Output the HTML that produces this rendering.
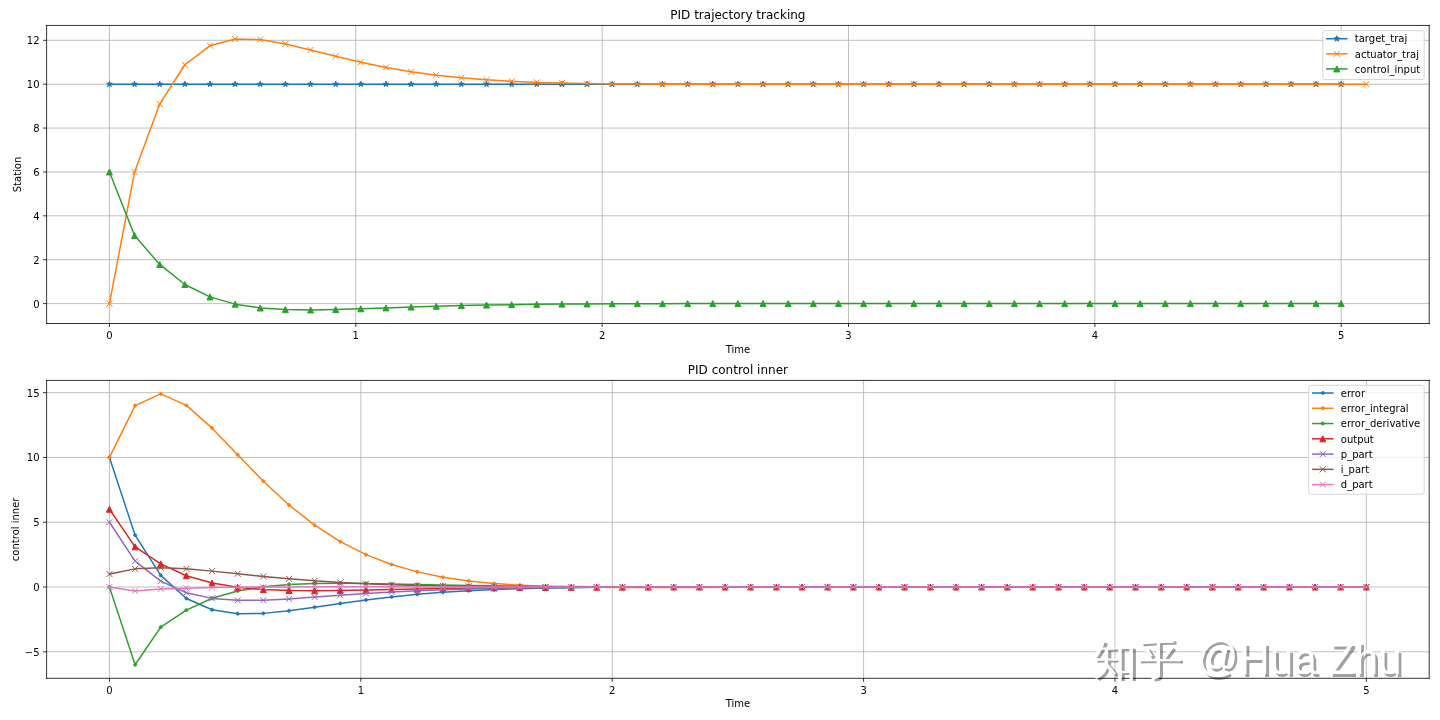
<!DOCTYPE html>
<html><head><meta charset="utf-8"><title>PID trajectory tracking</title>
<style>
html,body{margin:0;padding:0;background:#fff;width:1440px;height:720px;overflow:hidden}
#wrap{position:relative;width:1440px;height:720px}
#wrap svg{display:block}
#wrap svg{will-change:transform}.wm{position:absolute;white-space:nowrap;color:#fff;line-height:1;text-shadow:3px 2.5px 0.5px rgba(0,0,0,0.37);transform-origin:0 0}#w1{left:1092px;top:638.7px;font-family:'Liberation Sans','WenQuanYi Zen Hei',sans-serif;font-size:43px;transform:scale(1.045,0.97)}#w2{left:1196.5px;top:634px;font-family:'Liberation Sans',sans-serif;font-size:44px;transform:scaleX(0.92)}#w3{left:1239px;top:636.5px;font-family:'Liberation Sans',sans-serif;font-size:44px;transform:scaleX(0.963)}
</style></head><body><div id="wrap">
<svg width="1440" height="720" viewBox="0 0 1440 720" version="1.1">
 <defs>
  <style type="text/css">*{stroke-linejoin: round; stroke-linecap: butt}</style>
 </defs>
 <g id="figure_1">
  <g id="patch_1">
   <path d="M 0 720  L 1440 720  L 1440 0  L 0 0  z " style="fill: #ffffff" />
  </g>
  <g id="axes_1">
   <g id="patch_2">
    <path d="M 46.6 323.5  L 1429.2 323.5  L 1429.2 25.45  L 46.6 25.45  z " style="fill: #ffffff" />
   </g>
   <g id="matplotlib.axis_1">
    <g id="xtick_1">
     <g id="line2d_1">
      <path d="M 109.445 323.5  L 109.445 25.45  " clip-path="url(#p305dee0a32)" style="fill: none; stroke: #b0b0b0; stroke-width: 0.8; stroke-linecap: square" />
     </g>
     <g id="line2d_2">
      <defs>
       <path id="m1504cfccaf" d="M 0 0  L 0 3.5  " style="stroke: #000000; stroke-width: 0.8" />
      </defs>
      <g>
       <use href="#m1504cfccaf" x="109.445" y="323.5" style="stroke: #000000; stroke-width: 0.8" />
      </g>
     </g>
     <g id="text_1" transform="translate(0.000 0.750)">
      <text style="font-size: 10px; font-family: 'DejaVu Sans', sans-serif; text-anchor: middle" x="109.445" y="338.098" transform="rotate(-0 109.445 338.098)">0</text>
     </g>
    </g>
    <g id="xtick_2">
     <g id="line2d_3">
      <path d="M 355.799 323.5  L 355.799 25.45  " clip-path="url(#p305dee0a32)" style="fill: none; stroke: #b0b0b0; stroke-width: 0.8; stroke-linecap: square" />
     </g>
     <g id="line2d_4">
      <g>
       <use href="#m1504cfccaf" x="355.799" y="323.5" style="stroke: #000000; stroke-width: 0.8" />
      </g>
     </g>
     <g id="text_2" transform="translate(0.000 0.750)">
      <text style="font-size: 10px; font-family: 'DejaVu Sans', sans-serif; text-anchor: middle" x="355.799" y="338.098" transform="rotate(-0 355.799 338.098)">1</text>
     </g>
    </g>
    <g id="xtick_3">
     <g id="line2d_5">
      <path d="M 602.153 323.5  L 602.153 25.45  " clip-path="url(#p305dee0a32)" style="fill: none; stroke: #b0b0b0; stroke-width: 0.8; stroke-linecap: square" />
     </g>
     <g id="line2d_6">
      <g>
       <use href="#m1504cfccaf" x="602.153" y="323.5" style="stroke: #000000; stroke-width: 0.8" />
      </g>
     </g>
     <g id="text_3" transform="translate(0.000 0.750)">
      <text style="font-size: 10px; font-family: 'DejaVu Sans', sans-serif; text-anchor: middle" x="602.153" y="338.098" transform="rotate(-0 602.153 338.098)">2</text>
     </g>
    </g>
    <g id="xtick_4">
     <g id="line2d_7">
      <path d="M 848.508 323.5  L 848.508 25.45  " clip-path="url(#p305dee0a32)" style="fill: none; stroke: #b0b0b0; stroke-width: 0.8; stroke-linecap: square" />
     </g>
     <g id="line2d_8">
      <g>
       <use href="#m1504cfccaf" x="848.508" y="323.5" style="stroke: #000000; stroke-width: 0.8" />
      </g>
     </g>
     <g id="text_4" transform="translate(0.000 0.750)">
      <text style="font-size: 10px; font-family: 'DejaVu Sans', sans-serif; text-anchor: middle" x="848.508" y="338.098" transform="rotate(-0 848.508 338.098)">3</text>
     </g>
    </g>
    <g id="xtick_5">
     <g id="line2d_9">
      <path d="M 1094.862 323.5  L 1094.862 25.45  " clip-path="url(#p305dee0a32)" style="fill: none; stroke: #b0b0b0; stroke-width: 0.8; stroke-linecap: square" />
     </g>
     <g id="line2d_10">
      <g>
       <use href="#m1504cfccaf" x="1094.862" y="323.5" style="stroke: #000000; stroke-width: 0.8" />
      </g>
     </g>
     <g id="text_5" transform="translate(0.000 0.750)">
      <text style="font-size: 10px; font-family: 'DejaVu Sans', sans-serif; text-anchor: middle" x="1094.862" y="338.098" transform="rotate(-0 1094.862 338.098)">4</text>
     </g>
    </g>
    <g id="xtick_6">
     <g id="line2d_11">
      <path d="M 1341.216 323.5  L 1341.216 25.45  " clip-path="url(#p305dee0a32)" style="fill: none; stroke: #b0b0b0; stroke-width: 0.8; stroke-linecap: square" />
     </g>
     <g id="line2d_12">
      <g>
       <use href="#m1504cfccaf" x="1341.216" y="323.5" style="stroke: #000000; stroke-width: 0.8" />
      </g>
     </g>
     <g id="text_6" transform="translate(0.000 0.750)">
      <text style="font-size: 10px; font-family: 'DejaVu Sans', sans-serif; text-anchor: middle" x="1341.216" y="338.098" transform="rotate(-0 1341.216 338.098)">5</text>
     </g>
    </g>
    <g id="text_7" transform="translate(0.000 0.750)">
     <text style="font-size: 10px; font-family: 'DejaVu Sans', sans-serif; text-anchor: middle" x="737.9" y="351.776" transform="rotate(-0 737.9 351.776)">Time</text>
    </g>
   </g>
   <g id="matplotlib.axis_2">
    <g id="ytick_1">
     <g id="line2d_13">
      <path d="M 46.6 303.598  L 1429.2 303.598  " clip-path="url(#p305dee0a32)" style="fill: none; stroke: #b0b0b0; stroke-width: 0.8; stroke-linecap: square" />
     </g>
     <g id="line2d_14">
      <defs>
       <path id="m5d545ce8f8" d="M 0 0  L -3.5 0  " style="stroke: #000000; stroke-width: 0.8" />
      </defs>
      <g>
       <use href="#m5d545ce8f8" x="46.6" y="303.598" style="stroke: #000000; stroke-width: 0.8" />
      </g>
     </g>
     <g id="text_8" transform="translate(0.000 0.250)">
      <text style="font-size: 10px; font-family: 'DejaVu Sans', sans-serif; text-anchor: end" x="39.6" y="307.397" transform="rotate(-0 39.6 307.397)">0</text>
     </g>
    </g>
    <g id="ytick_2">
     <g id="line2d_15">
      <path d="M 46.6 259.717  L 1429.2 259.717  " clip-path="url(#p305dee0a32)" style="fill: none; stroke: #b0b0b0; stroke-width: 0.8; stroke-linecap: square" />
     </g>
     <g id="line2d_16">
      <g>
       <use href="#m5d545ce8f8" x="46.6" y="259.717" style="stroke: #000000; stroke-width: 0.8" />
      </g>
     </g>
     <g id="text_9" transform="translate(0.000 0.250)">
      <text style="font-size: 10px; font-family: 'DejaVu Sans', sans-serif; text-anchor: end" x="39.6" y="263.516" transform="rotate(-0 39.6 263.516)">2</text>
     </g>
    </g>
    <g id="ytick_3">
     <g id="line2d_17">
      <path d="M 46.6 215.836  L 1429.2 215.836  " clip-path="url(#p305dee0a32)" style="fill: none; stroke: #b0b0b0; stroke-width: 0.8; stroke-linecap: square" />
     </g>
     <g id="line2d_18">
      <g>
       <use href="#m5d545ce8f8" x="46.6" y="215.836" style="stroke: #000000; stroke-width: 0.8" />
      </g>
     </g>
     <g id="text_10" transform="translate(0.000 0.250)">
      <text style="font-size: 10px; font-family: 'DejaVu Sans', sans-serif; text-anchor: end" x="39.6" y="219.635" transform="rotate(-0 39.6 219.635)">4</text>
     </g>
    </g>
    <g id="ytick_4">
     <g id="line2d_19">
      <path d="M 46.6 171.955  L 1429.2 171.955  " clip-path="url(#p305dee0a32)" style="fill: none; stroke: #b0b0b0; stroke-width: 0.8; stroke-linecap: square" />
     </g>
     <g id="line2d_20">
      <g>
       <use href="#m5d545ce8f8" x="46.6" y="171.955" style="stroke: #000000; stroke-width: 0.8" />
      </g>
     </g>
     <g id="text_11" transform="translate(0.000 0.250)">
      <text style="font-size: 10px; font-family: 'DejaVu Sans', sans-serif; text-anchor: end" x="39.6" y="175.754" transform="rotate(-0 39.6 175.754)">6</text>
     </g>
    </g>
    <g id="ytick_5">
     <g id="line2d_21">
      <path d="M 46.6 128.074  L 1429.2 128.074  " clip-path="url(#p305dee0a32)" style="fill: none; stroke: #b0b0b0; stroke-width: 0.8; stroke-linecap: square" />
     </g>
     <g id="line2d_22">
      <g>
       <use href="#m5d545ce8f8" x="46.6" y="128.074" style="stroke: #000000; stroke-width: 0.8" />
      </g>
     </g>
     <g id="text_12" transform="translate(0.000 0.250)">
      <text style="font-size: 10px; font-family: 'DejaVu Sans', sans-serif; text-anchor: end" x="39.6" y="131.873" transform="rotate(-0 39.6 131.873)">8</text>
     </g>
    </g>
    <g id="ytick_6">
     <g id="line2d_23">
      <path d="M 46.6 84.193  L 1429.2 84.193  " clip-path="url(#p305dee0a32)" style="fill: none; stroke: #b0b0b0; stroke-width: 0.8; stroke-linecap: square" />
     </g>
     <g id="line2d_24">
      <g>
       <use href="#m5d545ce8f8" x="46.6" y="84.193" style="stroke: #000000; stroke-width: 0.8" />
      </g>
     </g>
     <g id="text_13" transform="translate(0.000 0.250)">
      <text style="font-size: 10px; font-family: 'DejaVu Sans', sans-serif; text-anchor: end" x="39.6" y="87.992" transform="rotate(-0 39.6 87.992)">10</text>
     </g>
    </g>
    <g id="ytick_7">
     <g id="line2d_25">
      <path d="M 46.6 40.312  L 1429.2 40.312  " clip-path="url(#p305dee0a32)" style="fill: none; stroke: #b0b0b0; stroke-width: 0.8; stroke-linecap: square" />
     </g>
     <g id="line2d_26">
      <g>
       <use href="#m5d545ce8f8" x="46.6" y="40.312" style="stroke: #000000; stroke-width: 0.8" />
      </g>
     </g>
     <g id="text_14" transform="translate(0.000 0.250)">
      <text style="font-size: 10px; font-family: 'DejaVu Sans', sans-serif; text-anchor: end" x="39.6" y="44.111" transform="rotate(-0 39.6 44.111)">12</text>
     </g>
    </g>
    <g id="text_15">
     <text style="font-size: 10px; font-family: 'DejaVu Sans', sans-serif; text-anchor: middle" x="20.795" y="174.475" transform="rotate(-90 20.795 174.475)">Station</text>
    </g>
   </g>
   <g id="line2d_27">
    <path d="M 109.445 84.193  L 134.583 84.193  L 159.721 84.193  L 184.86 84.193  L 209.998 84.193  L 235.136 84.193  L 260.274 84.193  L 285.412 84.193  L 310.550 84.193  L 335.689 84.193  L 360.827 84.193  L 385.965 84.193  L 411.103 84.193  L 436.241 84.193  L 461.38 84.193  L 486.518 84.193  L 511.656 84.193  L 536.794 84.193  L 561.932 84.193  L 587.070 84.193  L 612.209 84.193  L 637.347 84.193  L 662.485 84.193  L 687.623 84.193  L 712.761 84.193  L 737.9 84.193  L 763.038 84.193  L 788.176 84.193  L 813.314 84.193  L 838.452 84.193  L 863.590 84.193  L 888.729 84.193  L 913.867 84.193  L 939.005 84.193  L 964.143 84.193  L 989.281 84.193  L 1014.42 84.193  L 1039.558 84.193  L 1064.696 84.193  L 1089.834 84.193  L 1114.972 84.193  L 1140.110 84.193  L 1165.249 84.193  L 1190.387 84.193  L 1215.525 84.193  L 1240.663 84.193  L 1265.801 84.193  L 1290.94 84.193  L 1316.078 84.193  L 1341.216 84.193  " clip-path="url(#p305dee0a32)" style="fill: none; stroke: #1f77b4; stroke-width: 1.5; stroke-linecap: square" />
    <defs>
     <path id="m5bca2a5b26" d="M 0 -3  L -0.673 -0.927  L -2.853 -0.927  L -1.089 0.354  L -1.763 2.427  L -0 1.145  L 1.763 2.427  L 1.089 0.354  L 2.853 -0.927  L 0.673 -0.927  z " style="stroke: #1f77b4; stroke-linejoin: bevel" />
    </defs>
    <g clip-path="url(#p305dee0a32)">
     <use href="#m5bca2a5b26" x="109.445" y="84.193" style="fill: #1f77b4; stroke: #1f77b4; stroke-linejoin: bevel" />
     <use href="#m5bca2a5b26" x="134.583" y="84.193" style="fill: #1f77b4; stroke: #1f77b4; stroke-linejoin: bevel" />
     <use href="#m5bca2a5b26" x="159.721" y="84.193" style="fill: #1f77b4; stroke: #1f77b4; stroke-linejoin: bevel" />
     <use href="#m5bca2a5b26" x="184.86" y="84.193" style="fill: #1f77b4; stroke: #1f77b4; stroke-linejoin: bevel" />
     <use href="#m5bca2a5b26" x="209.998" y="84.193" style="fill: #1f77b4; stroke: #1f77b4; stroke-linejoin: bevel" />
     <use href="#m5bca2a5b26" x="235.136" y="84.193" style="fill: #1f77b4; stroke: #1f77b4; stroke-linejoin: bevel" />
     <use href="#m5bca2a5b26" x="260.274" y="84.193" style="fill: #1f77b4; stroke: #1f77b4; stroke-linejoin: bevel" />
     <use href="#m5bca2a5b26" x="285.412" y="84.193" style="fill: #1f77b4; stroke: #1f77b4; stroke-linejoin: bevel" />
     <use href="#m5bca2a5b26" x="310.550" y="84.193" style="fill: #1f77b4; stroke: #1f77b4; stroke-linejoin: bevel" />
     <use href="#m5bca2a5b26" x="335.689" y="84.193" style="fill: #1f77b4; stroke: #1f77b4; stroke-linejoin: bevel" />
     <use href="#m5bca2a5b26" x="360.827" y="84.193" style="fill: #1f77b4; stroke: #1f77b4; stroke-linejoin: bevel" />
     <use href="#m5bca2a5b26" x="385.965" y="84.193" style="fill: #1f77b4; stroke: #1f77b4; stroke-linejoin: bevel" />
     <use href="#m5bca2a5b26" x="411.103" y="84.193" style="fill: #1f77b4; stroke: #1f77b4; stroke-linejoin: bevel" />
     <use href="#m5bca2a5b26" x="436.241" y="84.193" style="fill: #1f77b4; stroke: #1f77b4; stroke-linejoin: bevel" />
     <use href="#m5bca2a5b26" x="461.38" y="84.193" style="fill: #1f77b4; stroke: #1f77b4; stroke-linejoin: bevel" />
     <use href="#m5bca2a5b26" x="486.518" y="84.193" style="fill: #1f77b4; stroke: #1f77b4; stroke-linejoin: bevel" />
     <use href="#m5bca2a5b26" x="511.656" y="84.193" style="fill: #1f77b4; stroke: #1f77b4; stroke-linejoin: bevel" />
     <use href="#m5bca2a5b26" x="536.794" y="84.193" style="fill: #1f77b4; stroke: #1f77b4; stroke-linejoin: bevel" />
     <use href="#m5bca2a5b26" x="561.932" y="84.193" style="fill: #1f77b4; stroke: #1f77b4; stroke-linejoin: bevel" />
     <use href="#m5bca2a5b26" x="587.070" y="84.193" style="fill: #1f77b4; stroke: #1f77b4; stroke-linejoin: bevel" />
     <use href="#m5bca2a5b26" x="612.209" y="84.193" style="fill: #1f77b4; stroke: #1f77b4; stroke-linejoin: bevel" />
     <use href="#m5bca2a5b26" x="637.347" y="84.193" style="fill: #1f77b4; stroke: #1f77b4; stroke-linejoin: bevel" />
     <use href="#m5bca2a5b26" x="662.485" y="84.193" style="fill: #1f77b4; stroke: #1f77b4; stroke-linejoin: bevel" />
     <use href="#m5bca2a5b26" x="687.623" y="84.193" style="fill: #1f77b4; stroke: #1f77b4; stroke-linejoin: bevel" />
     <use href="#m5bca2a5b26" x="712.761" y="84.193" style="fill: #1f77b4; stroke: #1f77b4; stroke-linejoin: bevel" />
     <use href="#m5bca2a5b26" x="737.9" y="84.193" style="fill: #1f77b4; stroke: #1f77b4; stroke-linejoin: bevel" />
     <use href="#m5bca2a5b26" x="763.038" y="84.193" style="fill: #1f77b4; stroke: #1f77b4; stroke-linejoin: bevel" />
     <use href="#m5bca2a5b26" x="788.176" y="84.193" style="fill: #1f77b4; stroke: #1f77b4; stroke-linejoin: bevel" />
     <use href="#m5bca2a5b26" x="813.314" y="84.193" style="fill: #1f77b4; stroke: #1f77b4; stroke-linejoin: bevel" />
     <use href="#m5bca2a5b26" x="838.452" y="84.193" style="fill: #1f77b4; stroke: #1f77b4; stroke-linejoin: bevel" />
     <use href="#m5bca2a5b26" x="863.590" y="84.193" style="fill: #1f77b4; stroke: #1f77b4; stroke-linejoin: bevel" />
     <use href="#m5bca2a5b26" x="888.729" y="84.193" style="fill: #1f77b4; stroke: #1f77b4; stroke-linejoin: bevel" />
     <use href="#m5bca2a5b26" x="913.867" y="84.193" style="fill: #1f77b4; stroke: #1f77b4; stroke-linejoin: bevel" />
     <use href="#m5bca2a5b26" x="939.005" y="84.193" style="fill: #1f77b4; stroke: #1f77b4; stroke-linejoin: bevel" />
     <use href="#m5bca2a5b26" x="964.143" y="84.193" style="fill: #1f77b4; stroke: #1f77b4; stroke-linejoin: bevel" />
     <use href="#m5bca2a5b26" x="989.281" y="84.193" style="fill: #1f77b4; stroke: #1f77b4; stroke-linejoin: bevel" />
     <use href="#m5bca2a5b26" x="1014.42" y="84.193" style="fill: #1f77b4; stroke: #1f77b4; stroke-linejoin: bevel" />
     <use href="#m5bca2a5b26" x="1039.558" y="84.193" style="fill: #1f77b4; stroke: #1f77b4; stroke-linejoin: bevel" />
     <use href="#m5bca2a5b26" x="1064.696" y="84.193" style="fill: #1f77b4; stroke: #1f77b4; stroke-linejoin: bevel" />
     <use href="#m5bca2a5b26" x="1089.834" y="84.193" style="fill: #1f77b4; stroke: #1f77b4; stroke-linejoin: bevel" />
     <use href="#m5bca2a5b26" x="1114.972" y="84.193" style="fill: #1f77b4; stroke: #1f77b4; stroke-linejoin: bevel" />
     <use href="#m5bca2a5b26" x="1140.110" y="84.193" style="fill: #1f77b4; stroke: #1f77b4; stroke-linejoin: bevel" />
     <use href="#m5bca2a5b26" x="1165.249" y="84.193" style="fill: #1f77b4; stroke: #1f77b4; stroke-linejoin: bevel" />
     <use href="#m5bca2a5b26" x="1190.387" y="84.193" style="fill: #1f77b4; stroke: #1f77b4; stroke-linejoin: bevel" />
     <use href="#m5bca2a5b26" x="1215.525" y="84.193" style="fill: #1f77b4; stroke: #1f77b4; stroke-linejoin: bevel" />
     <use href="#m5bca2a5b26" x="1240.663" y="84.193" style="fill: #1f77b4; stroke: #1f77b4; stroke-linejoin: bevel" />
     <use href="#m5bca2a5b26" x="1265.801" y="84.193" style="fill: #1f77b4; stroke: #1f77b4; stroke-linejoin: bevel" />
     <use href="#m5bca2a5b26" x="1290.94" y="84.193" style="fill: #1f77b4; stroke: #1f77b4; stroke-linejoin: bevel" />
     <use href="#m5bca2a5b26" x="1316.078" y="84.193" style="fill: #1f77b4; stroke: #1f77b4; stroke-linejoin: bevel" />
     <use href="#m5bca2a5b26" x="1341.216" y="84.193" style="fill: #1f77b4; stroke: #1f77b4; stroke-linejoin: bevel" />
    </g>
   </g>
   <g id="line2d_28">
    <path d="M 109.445 303.598  L 134.583 171.955  L 159.721 103.939  L 184.86 64.775  L 209.998 45.693  L 235.136 38.997  L 260.274 39.550  L 285.412 43.928  L 310.550 49.952  L 335.689 56.306  L 360.827 62.255  L 385.965 67.444  L 411.103 71.751  L 436.241 75.193  L 461.38 77.857  L 486.518 79.862  L 511.656 81.330  L 536.794 82.377  L 561.932 83.103  L 587.070 83.592  L 612.209 83.908  L 637.347 84.103  L 662.485 84.215  L 687.623 84.274  L 712.761 84.297  L 737.9 84.300  L 763.038 84.292  L 788.176 84.279  L 813.314 84.264  L 838.452 84.249  L 863.590 84.236  L 888.729 84.225  L 913.867 84.217  L 939.005 84.210  L 964.143 84.204  L 989.281 84.201  L 1014.42 84.198  L 1039.558 84.196  L 1064.696 84.195  L 1089.834 84.194  L 1114.972 84.193  L 1140.110 84.193  L 1165.249 84.193  L 1190.387 84.193  L 1215.525 84.193  L 1240.663 84.193  L 1265.801 84.193  L 1290.94 84.193  L 1316.078 84.193  L 1341.216 84.193  L 1366.354 84.193  " clip-path="url(#p305dee0a32)" style="fill: none; stroke: #ff7f0e; stroke-width: 1.5; stroke-linecap: square" />
    <defs>
     <path id="m5c6e1385d8" d="M -3 3  L 3 -3  M -3 -3  L 3 3  " style="stroke: #ff7f0e" />
    </defs>
    <g clip-path="url(#p305dee0a32)">
     <use href="#m5c6e1385d8" x="109.445" y="303.598" style="fill: #ff7f0e; stroke: #ff7f0e" />
     <use href="#m5c6e1385d8" x="134.583" y="171.955" style="fill: #ff7f0e; stroke: #ff7f0e" />
     <use href="#m5c6e1385d8" x="159.721" y="103.939" style="fill: #ff7f0e; stroke: #ff7f0e" />
     <use href="#m5c6e1385d8" x="184.86" y="64.775" style="fill: #ff7f0e; stroke: #ff7f0e" />
     <use href="#m5c6e1385d8" x="209.998" y="45.693" style="fill: #ff7f0e; stroke: #ff7f0e" />
     <use href="#m5c6e1385d8" x="235.136" y="38.997" style="fill: #ff7f0e; stroke: #ff7f0e" />
     <use href="#m5c6e1385d8" x="260.274" y="39.550" style="fill: #ff7f0e; stroke: #ff7f0e" />
     <use href="#m5c6e1385d8" x="285.412" y="43.928" style="fill: #ff7f0e; stroke: #ff7f0e" />
     <use href="#m5c6e1385d8" x="310.550" y="49.952" style="fill: #ff7f0e; stroke: #ff7f0e" />
     <use href="#m5c6e1385d8" x="335.689" y="56.306" style="fill: #ff7f0e; stroke: #ff7f0e" />
     <use href="#m5c6e1385d8" x="360.827" y="62.255" style="fill: #ff7f0e; stroke: #ff7f0e" />
     <use href="#m5c6e1385d8" x="385.965" y="67.444" style="fill: #ff7f0e; stroke: #ff7f0e" />
     <use href="#m5c6e1385d8" x="411.103" y="71.751" style="fill: #ff7f0e; stroke: #ff7f0e" />
     <use href="#m5c6e1385d8" x="436.241" y="75.193" style="fill: #ff7f0e; stroke: #ff7f0e" />
     <use href="#m5c6e1385d8" x="461.38" y="77.857" style="fill: #ff7f0e; stroke: #ff7f0e" />
     <use href="#m5c6e1385d8" x="486.518" y="79.862" style="fill: #ff7f0e; stroke: #ff7f0e" />
     <use href="#m5c6e1385d8" x="511.656" y="81.330" style="fill: #ff7f0e; stroke: #ff7f0e" />
     <use href="#m5c6e1385d8" x="536.794" y="82.377" style="fill: #ff7f0e; stroke: #ff7f0e" />
     <use href="#m5c6e1385d8" x="561.932" y="83.103" style="fill: #ff7f0e; stroke: #ff7f0e" />
     <use href="#m5c6e1385d8" x="587.070" y="83.592" style="fill: #ff7f0e; stroke: #ff7f0e" />
     <use href="#m5c6e1385d8" x="612.209" y="83.908" style="fill: #ff7f0e; stroke: #ff7f0e" />
     <use href="#m5c6e1385d8" x="637.347" y="84.103" style="fill: #ff7f0e; stroke: #ff7f0e" />
     <use href="#m5c6e1385d8" x="662.485" y="84.215" style="fill: #ff7f0e; stroke: #ff7f0e" />
     <use href="#m5c6e1385d8" x="687.623" y="84.274" style="fill: #ff7f0e; stroke: #ff7f0e" />
     <use href="#m5c6e1385d8" x="712.761" y="84.297" style="fill: #ff7f0e; stroke: #ff7f0e" />
     <use href="#m5c6e1385d8" x="737.9" y="84.300" style="fill: #ff7f0e; stroke: #ff7f0e" />
     <use href="#m5c6e1385d8" x="763.038" y="84.292" style="fill: #ff7f0e; stroke: #ff7f0e" />
     <use href="#m5c6e1385d8" x="788.176" y="84.279" style="fill: #ff7f0e; stroke: #ff7f0e" />
     <use href="#m5c6e1385d8" x="813.314" y="84.264" style="fill: #ff7f0e; stroke: #ff7f0e" />
     <use href="#m5c6e1385d8" x="838.452" y="84.249" style="fill: #ff7f0e; stroke: #ff7f0e" />
     <use href="#m5c6e1385d8" x="863.590" y="84.236" style="fill: #ff7f0e; stroke: #ff7f0e" />
     <use href="#m5c6e1385d8" x="888.729" y="84.225" style="fill: #ff7f0e; stroke: #ff7f0e" />
     <use href="#m5c6e1385d8" x="913.867" y="84.217" style="fill: #ff7f0e; stroke: #ff7f0e" />
     <use href="#m5c6e1385d8" x="939.005" y="84.210" style="fill: #ff7f0e; stroke: #ff7f0e" />
     <use href="#m5c6e1385d8" x="964.143" y="84.204" style="fill: #ff7f0e; stroke: #ff7f0e" />
     <use href="#m5c6e1385d8" x="989.281" y="84.201" style="fill: #ff7f0e; stroke: #ff7f0e" />
     <use href="#m5c6e1385d8" x="1014.42" y="84.198" style="fill: #ff7f0e; stroke: #ff7f0e" />
     <use href="#m5c6e1385d8" x="1039.558" y="84.196" style="fill: #ff7f0e; stroke: #ff7f0e" />
     <use href="#m5c6e1385d8" x="1064.696" y="84.195" style="fill: #ff7f0e; stroke: #ff7f0e" />
     <use href="#m5c6e1385d8" x="1089.834" y="84.194" style="fill: #ff7f0e; stroke: #ff7f0e" />
     <use href="#m5c6e1385d8" x="1114.972" y="84.193" style="fill: #ff7f0e; stroke: #ff7f0e" />
     <use href="#m5c6e1385d8" x="1140.110" y="84.193" style="fill: #ff7f0e; stroke: #ff7f0e" />
     <use href="#m5c6e1385d8" x="1165.249" y="84.193" style="fill: #ff7f0e; stroke: #ff7f0e" />
     <use href="#m5c6e1385d8" x="1190.387" y="84.193" style="fill: #ff7f0e; stroke: #ff7f0e" />
     <use href="#m5c6e1385d8" x="1215.525" y="84.193" style="fill: #ff7f0e; stroke: #ff7f0e" />
     <use href="#m5c6e1385d8" x="1240.663" y="84.193" style="fill: #ff7f0e; stroke: #ff7f0e" />
     <use href="#m5c6e1385d8" x="1265.801" y="84.193" style="fill: #ff7f0e; stroke: #ff7f0e" />
     <use href="#m5c6e1385d8" x="1290.94" y="84.193" style="fill: #ff7f0e; stroke: #ff7f0e" />
     <use href="#m5c6e1385d8" x="1316.078" y="84.193" style="fill: #ff7f0e; stroke: #ff7f0e" />
     <use href="#m5c6e1385d8" x="1341.216" y="84.193" style="fill: #ff7f0e; stroke: #ff7f0e" />
     <use href="#m5c6e1385d8" x="1366.354" y="84.193" style="fill: #ff7f0e; stroke: #ff7f0e" />
    </g>
   </g>
   <g id="line2d_29">
    <path d="M 109.445 171.955  L 134.583 235.582  L 159.721 264.434  L 184.86 284.515  L 209.998 296.902  L 235.136 304.150  L 260.274 307.976  L 285.412 309.622  L 310.550 309.952  L 335.689 309.547  L 360.827 308.786  L 385.965 307.905  L 411.103 307.040  L 436.241 306.262  L 461.38 305.602  L 486.518 305.066  L 511.656 304.645  L 536.794 304.324  L 561.932 304.086  L 587.070 303.914  L 612.209 303.793  L 637.347 303.710  L 662.485 303.656  L 687.623 303.622  L 712.761 303.601  L 737.9 303.590  L 763.038 303.584  L 788.176 303.583  L 813.314 303.583  L 838.452 303.585  L 863.590 303.587  L 888.729 303.589  L 913.867 303.591  L 939.005 303.593  L 964.143 303.594  L 989.281 303.595  L 1014.42 303.596  L 1039.558 303.597  L 1064.696 303.597  L 1089.834 303.597  L 1114.972 303.598  L 1140.110 303.598  L 1165.249 303.598  L 1190.387 303.598  L 1215.525 303.598  L 1240.663 303.598  L 1265.801 303.598  L 1290.94 303.598  L 1316.078 303.598  L 1341.216 303.598  " clip-path="url(#p305dee0a32)" style="fill: none; stroke: #2ca02c; stroke-width: 1.5; stroke-linecap: square" />
    <defs>
     <path id="mf5825194f9" d="M 0 -3  L -3 3  L 3 3  z " style="stroke: #2ca02c; stroke-linejoin: miter" />
    </defs>
    <g clip-path="url(#p305dee0a32)">
     <use href="#mf5825194f9" x="109.445" y="171.955" style="fill: #2ca02c; stroke: #2ca02c; stroke-linejoin: miter" />
     <use href="#mf5825194f9" x="134.583" y="235.582" style="fill: #2ca02c; stroke: #2ca02c; stroke-linejoin: miter" />
     <use href="#mf5825194f9" x="159.721" y="264.434" style="fill: #2ca02c; stroke: #2ca02c; stroke-linejoin: miter" />
     <use href="#mf5825194f9" x="184.86" y="284.515" style="fill: #2ca02c; stroke: #2ca02c; stroke-linejoin: miter" />
     <use href="#mf5825194f9" x="209.998" y="296.902" style="fill: #2ca02c; stroke: #2ca02c; stroke-linejoin: miter" />
     <use href="#mf5825194f9" x="235.136" y="304.150" style="fill: #2ca02c; stroke: #2ca02c; stroke-linejoin: miter" />
     <use href="#mf5825194f9" x="260.274" y="307.976" style="fill: #2ca02c; stroke: #2ca02c; stroke-linejoin: miter" />
     <use href="#mf5825194f9" x="285.412" y="309.622" style="fill: #2ca02c; stroke: #2ca02c; stroke-linejoin: miter" />
     <use href="#mf5825194f9" x="310.550" y="309.952" style="fill: #2ca02c; stroke: #2ca02c; stroke-linejoin: miter" />
     <use href="#mf5825194f9" x="335.689" y="309.547" style="fill: #2ca02c; stroke: #2ca02c; stroke-linejoin: miter" />
     <use href="#mf5825194f9" x="360.827" y="308.786" style="fill: #2ca02c; stroke: #2ca02c; stroke-linejoin: miter" />
     <use href="#mf5825194f9" x="385.965" y="307.905" style="fill: #2ca02c; stroke: #2ca02c; stroke-linejoin: miter" />
     <use href="#mf5825194f9" x="411.103" y="307.040" style="fill: #2ca02c; stroke: #2ca02c; stroke-linejoin: miter" />
     <use href="#mf5825194f9" x="436.241" y="306.262" style="fill: #2ca02c; stroke: #2ca02c; stroke-linejoin: miter" />
     <use href="#mf5825194f9" x="461.38" y="305.602" style="fill: #2ca02c; stroke: #2ca02c; stroke-linejoin: miter" />
     <use href="#mf5825194f9" x="486.518" y="305.066" style="fill: #2ca02c; stroke: #2ca02c; stroke-linejoin: miter" />
     <use href="#mf5825194f9" x="511.656" y="304.645" style="fill: #2ca02c; stroke: #2ca02c; stroke-linejoin: miter" />
     <use href="#mf5825194f9" x="536.794" y="304.324" style="fill: #2ca02c; stroke: #2ca02c; stroke-linejoin: miter" />
     <use href="#mf5825194f9" x="561.932" y="304.086" style="fill: #2ca02c; stroke: #2ca02c; stroke-linejoin: miter" />
     <use href="#mf5825194f9" x="587.070" y="303.914" style="fill: #2ca02c; stroke: #2ca02c; stroke-linejoin: miter" />
     <use href="#mf5825194f9" x="612.209" y="303.793" style="fill: #2ca02c; stroke: #2ca02c; stroke-linejoin: miter" />
     <use href="#mf5825194f9" x="637.347" y="303.710" style="fill: #2ca02c; stroke: #2ca02c; stroke-linejoin: miter" />
     <use href="#mf5825194f9" x="662.485" y="303.656" style="fill: #2ca02c; stroke: #2ca02c; stroke-linejoin: miter" />
     <use href="#mf5825194f9" x="687.623" y="303.622" style="fill: #2ca02c; stroke: #2ca02c; stroke-linejoin: miter" />
     <use href="#mf5825194f9" x="712.761" y="303.601" style="fill: #2ca02c; stroke: #2ca02c; stroke-linejoin: miter" />
     <use href="#mf5825194f9" x="737.9" y="303.590" style="fill: #2ca02c; stroke: #2ca02c; stroke-linejoin: miter" />
     <use href="#mf5825194f9" x="763.038" y="303.584" style="fill: #2ca02c; stroke: #2ca02c; stroke-linejoin: miter" />
     <use href="#mf5825194f9" x="788.176" y="303.583" style="fill: #2ca02c; stroke: #2ca02c; stroke-linejoin: miter" />
     <use href="#mf5825194f9" x="813.314" y="303.583" style="fill: #2ca02c; stroke: #2ca02c; stroke-linejoin: miter" />
     <use href="#mf5825194f9" x="838.452" y="303.585" style="fill: #2ca02c; stroke: #2ca02c; stroke-linejoin: miter" />
     <use href="#mf5825194f9" x="863.590" y="303.587" style="fill: #2ca02c; stroke: #2ca02c; stroke-linejoin: miter" />
     <use href="#mf5825194f9" x="888.729" y="303.589" style="fill: #2ca02c; stroke: #2ca02c; stroke-linejoin: miter" />
     <use href="#mf5825194f9" x="913.867" y="303.591" style="fill: #2ca02c; stroke: #2ca02c; stroke-linejoin: miter" />
     <use href="#mf5825194f9" x="939.005" y="303.593" style="fill: #2ca02c; stroke: #2ca02c; stroke-linejoin: miter" />
     <use href="#mf5825194f9" x="964.143" y="303.594" style="fill: #2ca02c; stroke: #2ca02c; stroke-linejoin: miter" />
     <use href="#mf5825194f9" x="989.281" y="303.595" style="fill: #2ca02c; stroke: #2ca02c; stroke-linejoin: miter" />
     <use href="#mf5825194f9" x="1014.42" y="303.596" style="fill: #2ca02c; stroke: #2ca02c; stroke-linejoin: miter" />
     <use href="#mf5825194f9" x="1039.558" y="303.597" style="fill: #2ca02c; stroke: #2ca02c; stroke-linejoin: miter" />
     <use href="#mf5825194f9" x="1064.696" y="303.597" style="fill: #2ca02c; stroke: #2ca02c; stroke-linejoin: miter" />
     <use href="#mf5825194f9" x="1089.834" y="303.597" style="fill: #2ca02c; stroke: #2ca02c; stroke-linejoin: miter" />
     <use href="#mf5825194f9" x="1114.972" y="303.598" style="fill: #2ca02c; stroke: #2ca02c; stroke-linejoin: miter" />
     <use href="#mf5825194f9" x="1140.110" y="303.598" style="fill: #2ca02c; stroke: #2ca02c; stroke-linejoin: miter" />
     <use href="#mf5825194f9" x="1165.249" y="303.598" style="fill: #2ca02c; stroke: #2ca02c; stroke-linejoin: miter" />
     <use href="#mf5825194f9" x="1190.387" y="303.598" style="fill: #2ca02c; stroke: #2ca02c; stroke-linejoin: miter" />
     <use href="#mf5825194f9" x="1215.525" y="303.598" style="fill: #2ca02c; stroke: #2ca02c; stroke-linejoin: miter" />
     <use href="#mf5825194f9" x="1240.663" y="303.598" style="fill: #2ca02c; stroke: #2ca02c; stroke-linejoin: miter" />
     <use href="#mf5825194f9" x="1265.801" y="303.598" style="fill: #2ca02c; stroke: #2ca02c; stroke-linejoin: miter" />
     <use href="#mf5825194f9" x="1290.94" y="303.598" style="fill: #2ca02c; stroke: #2ca02c; stroke-linejoin: miter" />
     <use href="#mf5825194f9" x="1316.078" y="303.598" style="fill: #2ca02c; stroke: #2ca02c; stroke-linejoin: miter" />
     <use href="#mf5825194f9" x="1341.216" y="303.598" style="fill: #2ca02c; stroke: #2ca02c; stroke-linejoin: miter" />
    </g>
   </g>
   <g id="patch_3">
    <path d="M 46.6 323.5  L 46.6 25.45  " style="fill: none; stroke: #000000; stroke-width: 0.8; stroke-linejoin: miter; stroke-linecap: square" />
   </g>
   <g id="patch_4">
    <path d="M 1429.2 323.5  L 1429.2 25.45  " style="fill: none; stroke: #000000; stroke-width: 0.8; stroke-linejoin: miter; stroke-linecap: square" />
   </g>
   <g id="patch_5">
    <path d="M 46.6 323.5  L 1429.2 323.5  " style="fill: none; stroke: #000000; stroke-width: 0.8; stroke-linejoin: miter; stroke-linecap: square" />
   </g>
   <g id="patch_6">
    <path d="M 46.6 25.45  L 1429.2 25.45  " style="fill: none; stroke: #000000; stroke-width: 0.8; stroke-linejoin: miter; stroke-linecap: square" />
   </g>
   <g id="text_16">
    <text style="font-size: 12px; font-family: 'DejaVu Sans', sans-serif; text-anchor: middle" x="737.9" y="19.45" transform="rotate(-0 737.9 19.45)">PID trajectory tracking</text>
   </g>
   <g id="legend_1">
    <g id="patch_7">
     <path d="M 1324.820 79.6 L 1422.2 79.6 Q 1424.2 79.6 1424.2 77.6 L 1424.2 32.67 Q 1424.2 30.67 1422.2 30.67 L 1324.820 30.67 Q 1322.820 30.67 1322.820 32.67 L 1322.820 77.6 Q 1322.820 79.6 1324.820 79.6 z" style="fill: #ffffff; opacity: 0.8; stroke: #cccccc; stroke-linejoin: miter" />
    </g>
    <g id="line2d_30" transform="translate(0.000 0.202)">
     <path d="M 1326.820 38.548  L 1336.820 38.548  L 1346.820 38.548  " style="fill: none; stroke: #1f77b4; stroke-width: 1.5; stroke-linecap: square" />
     <g>
      <use href="#m5bca2a5b26" x="1336.820" y="38.548" style="fill: #1f77b4; stroke: #1f77b4; stroke-linejoin: bevel" />
     </g>
    </g>
    <g id="text_17" transform="translate(0.000 0.452)">
     <text style="font-size: 10px; font-family: 'DejaVu Sans', sans-serif; text-anchor: start" x="1354.820" y="42.048" transform="rotate(-0 1354.820 42.048)">target_traj</text>
    </g>
    <g id="line2d_31" transform="translate(0.000 0.325)">
     <path d="M 1326.820 53.504  L 1336.820 53.504  L 1346.820 53.504  " style="fill: none; stroke: #ff7f0e; stroke-width: 1.5; stroke-linecap: square" />
     <g>
      <use href="#m5c6e1385d8" x="1336.820" y="53.504" style="fill: #ff7f0e; stroke: #ff7f0e" />
     </g>
    </g>
    <g id="text_18" transform="translate(0.000 0.575)">
     <text style="font-size: 10px; font-family: 'DejaVu Sans', sans-serif; text-anchor: start" x="1354.820" y="57.004" transform="rotate(-0 1354.820 57.004)">actuator_traj</text>
    </g>
    <g id="line2d_32" transform="translate(0.000 0.449)">
     <path d="M 1326.820 68.460  L 1336.820 68.460  L 1346.820 68.460  " style="fill: none; stroke: #2ca02c; stroke-width: 1.5; stroke-linecap: square" />
     <g>
      <use href="#mf5825194f9" x="1336.820" y="68.460" style="fill: #2ca02c; stroke: #2ca02c; stroke-linejoin: miter" />
     </g>
    </g>
    <g id="text_19" transform="translate(0.000 0.699)">
     <text style="font-size: 10px; font-family: 'DejaVu Sans', sans-serif; text-anchor: start" x="1354.820" y="71.960" transform="rotate(-0 1354.820 71.960)">control_input</text>
    </g>
   </g>
  </g>
  <g id="axes_2">
   <g id="patch_8">
    <path d="M 46.6 678.3  L 1429.2 678.3  L 1429.2 380.4  L 46.6 380.4  z " style="fill: #ffffff" />
   </g>
   <g id="matplotlib.axis_3">
    <g id="xtick_7">
     <g id="line2d_33">
      <path d="M 109.445 678.3  L 109.445 380.4  " clip-path="url(#pa5035410b3)" style="fill: none; stroke: #b0b0b0; stroke-width: 0.8; stroke-linecap: square" />
     </g>
     <g id="line2d_34">
      <g>
       <use href="#m1504cfccaf" x="109.445" y="678.3" style="stroke: #000000; stroke-width: 0.8" />
      </g>
     </g>
     <g id="text_20" transform="translate(0.000 0.750)">
      <text style="font-size: 10px; font-family: 'DejaVu Sans', sans-serif; text-anchor: middle" x="109.445" y="692.898" transform="rotate(-0 109.445 692.898)">0</text>
     </g>
    </g>
    <g id="xtick_8">
     <g id="line2d_35">
      <path d="M 360.827 678.3  L 360.827 380.4  " clip-path="url(#pa5035410b3)" style="fill: none; stroke: #b0b0b0; stroke-width: 0.8; stroke-linecap: square" />
     </g>
     <g id="line2d_36">
      <g>
       <use href="#m1504cfccaf" x="360.827" y="678.3" style="stroke: #000000; stroke-width: 0.8" />
      </g>
     </g>
     <g id="text_21" transform="translate(0.000 0.750)">
      <text style="font-size: 10px; font-family: 'DejaVu Sans', sans-serif; text-anchor: middle" x="360.827" y="692.898" transform="rotate(-0 360.827 692.898)">1</text>
     </g>
    </g>
    <g id="xtick_9">
     <g id="line2d_37">
      <path d="M 612.209 678.3  L 612.209 380.4  " clip-path="url(#pa5035410b3)" style="fill: none; stroke: #b0b0b0; stroke-width: 0.8; stroke-linecap: square" />
     </g>
     <g id="line2d_38">
      <g>
       <use href="#m1504cfccaf" x="612.209" y="678.3" style="stroke: #000000; stroke-width: 0.8" />
      </g>
     </g>
     <g id="text_22" transform="translate(0.000 0.750)">
      <text style="font-size: 10px; font-family: 'DejaVu Sans', sans-serif; text-anchor: middle" x="612.209" y="692.898" transform="rotate(-0 612.209 692.898)">2</text>
     </g>
    </g>
    <g id="xtick_10">
     <g id="line2d_39">
      <path d="M 863.590 678.3  L 863.590 380.4  " clip-path="url(#pa5035410b3)" style="fill: none; stroke: #b0b0b0; stroke-width: 0.8; stroke-linecap: square" />
     </g>
     <g id="line2d_40">
      <g>
       <use href="#m1504cfccaf" x="863.590" y="678.3" style="stroke: #000000; stroke-width: 0.8" />
      </g>
     </g>
     <g id="text_23" transform="translate(0.000 0.750)">
      <text style="font-size: 10px; font-family: 'DejaVu Sans', sans-serif; text-anchor: middle" x="863.590" y="692.898" transform="rotate(-0 863.590 692.898)">3</text>
     </g>
    </g>
    <g id="xtick_11">
     <g id="line2d_41">
      <path d="M 1114.972 678.3  L 1114.972 380.4  " clip-path="url(#pa5035410b3)" style="fill: none; stroke: #b0b0b0; stroke-width: 0.8; stroke-linecap: square" />
     </g>
     <g id="line2d_42">
      <g>
       <use href="#m1504cfccaf" x="1114.972" y="678.3" style="stroke: #000000; stroke-width: 0.8" />
      </g>
     </g>
     <g id="text_24" transform="translate(0.000 0.750)">
      <text style="font-size: 10px; font-family: 'DejaVu Sans', sans-serif; text-anchor: middle" x="1114.972" y="692.898" transform="rotate(-0 1114.972 692.898)">4</text>
     </g>
    </g>
    <g id="xtick_12">
     <g id="line2d_43">
      <path d="M 1366.354 678.3  L 1366.354 380.4  " clip-path="url(#pa5035410b3)" style="fill: none; stroke: #b0b0b0; stroke-width: 0.8; stroke-linecap: square" />
     </g>
     <g id="line2d_44">
      <g>
       <use href="#m1504cfccaf" x="1366.354" y="678.3" style="stroke: #000000; stroke-width: 0.8" />
      </g>
     </g>
     <g id="text_25" transform="translate(0.000 0.750)">
      <text style="font-size: 10px; font-family: 'DejaVu Sans', sans-serif; text-anchor: middle" x="1366.354" y="692.898" transform="rotate(-0 1366.354 692.898)">5</text>
     </g>
    </g>
    <g id="text_26">
     <text style="font-size: 10px; font-family: 'DejaVu Sans', sans-serif; text-anchor: middle" x="737.9" y="706.576" transform="rotate(-0 737.9 706.576)">Time</text>
    </g>
   </g>
   <g id="matplotlib.axis_4">
    <g id="ytick_8">
     <g id="line2d_45">
      <path d="M 46.6 651.801  L 1429.2 651.801  " clip-path="url(#pa5035410b3)" style="fill: none; stroke: #b0b0b0; stroke-width: 0.8; stroke-linecap: square" />
     </g>
     <g id="line2d_46">
      <g>
       <use href="#m5d545ce8f8" x="46.6" y="651.801" style="stroke: #000000; stroke-width: 0.8" />
      </g>
     </g>
     <g id="text_27" transform="translate(0.000 0.250)">
      <text style="font-size: 10px; font-family: 'DejaVu Sans', sans-serif; text-anchor: end" x="39.6" y="655.600" transform="rotate(-0 39.6 655.600)">−5</text>
     </g>
    </g>
    <g id="ytick_9">
     <g id="line2d_47">
      <path d="M 46.6 587.012  L 1429.2 587.012  " clip-path="url(#pa5035410b3)" style="fill: none; stroke: #b0b0b0; stroke-width: 0.8; stroke-linecap: square" />
     </g>
     <g id="line2d_48">
      <g>
       <use href="#m5d545ce8f8" x="46.6" y="587.012" style="stroke: #000000; stroke-width: 0.8" />
      </g>
     </g>
     <g id="text_28" transform="translate(0.000 0.250)">
      <text style="font-size: 10px; font-family: 'DejaVu Sans', sans-serif; text-anchor: end" x="39.6" y="590.811" transform="rotate(-0 39.6 590.811)">0</text>
     </g>
    </g>
    <g id="ytick_10">
     <g id="line2d_49">
      <path d="M 46.6 522.223  L 1429.2 522.223  " clip-path="url(#pa5035410b3)" style="fill: none; stroke: #b0b0b0; stroke-width: 0.8; stroke-linecap: square" />
     </g>
     <g id="line2d_50">
      <g>
       <use href="#m5d545ce8f8" x="46.6" y="522.223" style="stroke: #000000; stroke-width: 0.8" />
      </g>
     </g>
     <g id="text_29" transform="translate(0.000 0.250)">
      <text style="font-size: 10px; font-family: 'DejaVu Sans', sans-serif; text-anchor: end" x="39.6" y="526.022" transform="rotate(-0 39.6 526.022)">5</text>
     </g>
    </g>
    <g id="ytick_11">
     <g id="line2d_51">
      <path d="M 46.6 457.434  L 1429.2 457.434  " clip-path="url(#pa5035410b3)" style="fill: none; stroke: #b0b0b0; stroke-width: 0.8; stroke-linecap: square" />
     </g>
     <g id="line2d_52">
      <g>
       <use href="#m5d545ce8f8" x="46.6" y="457.434" style="stroke: #000000; stroke-width: 0.8" />
      </g>
     </g>
     <g id="text_30" transform="translate(0.000 0.250)">
      <text style="font-size: 10px; font-family: 'DejaVu Sans', sans-serif; text-anchor: end" x="39.6" y="461.233" transform="rotate(-0 39.6 461.233)">10</text>
     </g>
    </g>
    <g id="ytick_12">
     <g id="line2d_53">
      <path d="M 46.6 392.645  L 1429.2 392.645  " clip-path="url(#pa5035410b3)" style="fill: none; stroke: #b0b0b0; stroke-width: 0.8; stroke-linecap: square" />
     </g>
     <g id="line2d_54">
      <g>
       <use href="#m5d545ce8f8" x="46.6" y="392.645" style="stroke: #000000; stroke-width: 0.8" />
      </g>
     </g>
     <g id="text_31" transform="translate(0.000 0.250)">
      <text style="font-size: 10px; font-family: 'DejaVu Sans', sans-serif; text-anchor: end" x="39.6" y="396.444" transform="rotate(-0 39.6 396.444)">15</text>
     </g>
    </g>
    <g id="text_32">
     <text style="font-size: 10px; font-family: 'DejaVu Sans', sans-serif; text-anchor: middle" x="18.778" y="529.35" transform="rotate(-90 18.778 529.35)">control inner</text>
    </g>
   </g>
   <g id="line2d_55">
    <path d="M 109.445 457.434  L 135.096 535.181  L 160.747 575.350  L 186.399 598.479  L 212.050 609.749  L 237.701 613.704  L 263.352 613.377  L 289.003 610.792  L 314.655 607.234  L 340.306 603.481  L 365.957 599.968  L 391.608 596.904  L 417.259 594.360  L 442.911 592.327  L 468.562 590.754  L 494.213 589.570  L 519.864 588.702  L 545.515 588.084  L 571.167 587.655  L 596.818 587.367  L 622.469 587.180  L 648.120 587.065  L 673.771 586.998  L 699.423 586.964  L 725.074 586.950  L 750.725 586.948  L 776.376 586.953  L 802.028 586.961  L 827.679 586.970  L 853.330 586.978  L 878.981 586.986  L 904.632 586.993  L 930.284 586.998  L 955.935 587.002  L 981.586 587.005  L 1007.237 587.007  L 1032.888 587.009  L 1058.540 587.010  L 1084.191 587.011  L 1109.842 587.011  L 1135.493 587.012  L 1161.144 587.012  L 1186.796 587.012  L 1212.447 587.012  L 1238.098 587.012  L 1263.749 587.012  L 1289.400 587.012  L 1315.052 587.012  L 1340.703 587.012  L 1366.354 587.012  " clip-path="url(#pa5035410b3)" style="fill: none; stroke: #1f77b4; stroke-width: 1.5; stroke-linecap: square" />
    <defs>
     <path id="m3a58cf84ba" d="M 0 1.5  C 0.397 1.5 0.779 1.341 1.060 1.060  C 1.341 0.779 1.5 0.397 1.5 0  C 1.5 -0.397 1.341 -0.779 1.060 -1.060  C 0.779 -1.341 0.397 -1.5 0 -1.5  C -0.397 -1.5 -0.779 -1.341 -1.060 -1.060  C -1.341 -0.779 -1.5 -0.397 -1.5 0  C -1.5 0.397 -1.341 0.779 -1.060 1.060  C -0.779 1.341 -0.397 1.5 0 1.5  z " style="stroke: #1f77b4" />
    </defs>
    <g clip-path="url(#pa5035410b3)">
     <use href="#m3a58cf84ba" x="109.445" y="457.434" style="fill: #1f77b4; stroke: #1f77b4" />
     <use href="#m3a58cf84ba" x="135.096" y="535.181" style="fill: #1f77b4; stroke: #1f77b4" />
     <use href="#m3a58cf84ba" x="160.747" y="575.350" style="fill: #1f77b4; stroke: #1f77b4" />
     <use href="#m3a58cf84ba" x="186.399" y="598.479" style="fill: #1f77b4; stroke: #1f77b4" />
     <use href="#m3a58cf84ba" x="212.050" y="609.749" style="fill: #1f77b4; stroke: #1f77b4" />
     <use href="#m3a58cf84ba" x="237.701" y="613.704" style="fill: #1f77b4; stroke: #1f77b4" />
     <use href="#m3a58cf84ba" x="263.352" y="613.377" style="fill: #1f77b4; stroke: #1f77b4" />
     <use href="#m3a58cf84ba" x="289.003" y="610.792" style="fill: #1f77b4; stroke: #1f77b4" />
     <use href="#m3a58cf84ba" x="314.655" y="607.234" style="fill: #1f77b4; stroke: #1f77b4" />
     <use href="#m3a58cf84ba" x="340.306" y="603.481" style="fill: #1f77b4; stroke: #1f77b4" />
     <use href="#m3a58cf84ba" x="365.957" y="599.968" style="fill: #1f77b4; stroke: #1f77b4" />
     <use href="#m3a58cf84ba" x="391.608" y="596.904" style="fill: #1f77b4; stroke: #1f77b4" />
     <use href="#m3a58cf84ba" x="417.259" y="594.360" style="fill: #1f77b4; stroke: #1f77b4" />
     <use href="#m3a58cf84ba" x="442.911" y="592.327" style="fill: #1f77b4; stroke: #1f77b4" />
     <use href="#m3a58cf84ba" x="468.562" y="590.754" style="fill: #1f77b4; stroke: #1f77b4" />
     <use href="#m3a58cf84ba" x="494.213" y="589.570" style="fill: #1f77b4; stroke: #1f77b4" />
     <use href="#m3a58cf84ba" x="519.864" y="588.702" style="fill: #1f77b4; stroke: #1f77b4" />
     <use href="#m3a58cf84ba" x="545.515" y="588.084" style="fill: #1f77b4; stroke: #1f77b4" />
     <use href="#m3a58cf84ba" x="571.167" y="587.655" style="fill: #1f77b4; stroke: #1f77b4" />
     <use href="#m3a58cf84ba" x="596.818" y="587.367" style="fill: #1f77b4; stroke: #1f77b4" />
     <use href="#m3a58cf84ba" x="622.469" y="587.180" style="fill: #1f77b4; stroke: #1f77b4" />
     <use href="#m3a58cf84ba" x="648.120" y="587.065" style="fill: #1f77b4; stroke: #1f77b4" />
     <use href="#m3a58cf84ba" x="673.771" y="586.998" style="fill: #1f77b4; stroke: #1f77b4" />
     <use href="#m3a58cf84ba" x="699.423" y="586.964" style="fill: #1f77b4; stroke: #1f77b4" />
     <use href="#m3a58cf84ba" x="725.074" y="586.950" style="fill: #1f77b4; stroke: #1f77b4" />
     <use href="#m3a58cf84ba" x="750.725" y="586.948" style="fill: #1f77b4; stroke: #1f77b4" />
     <use href="#m3a58cf84ba" x="776.376" y="586.953" style="fill: #1f77b4; stroke: #1f77b4" />
     <use href="#m3a58cf84ba" x="802.028" y="586.961" style="fill: #1f77b4; stroke: #1f77b4" />
     <use href="#m3a58cf84ba" x="827.679" y="586.970" style="fill: #1f77b4; stroke: #1f77b4" />
     <use href="#m3a58cf84ba" x="853.330" y="586.978" style="fill: #1f77b4; stroke: #1f77b4" />
     <use href="#m3a58cf84ba" x="878.981" y="586.986" style="fill: #1f77b4; stroke: #1f77b4" />
     <use href="#m3a58cf84ba" x="904.632" y="586.993" style="fill: #1f77b4; stroke: #1f77b4" />
     <use href="#m3a58cf84ba" x="930.284" y="586.998" style="fill: #1f77b4; stroke: #1f77b4" />
     <use href="#m3a58cf84ba" x="955.935" y="587.002" style="fill: #1f77b4; stroke: #1f77b4" />
     <use href="#m3a58cf84ba" x="981.586" y="587.005" style="fill: #1f77b4; stroke: #1f77b4" />
     <use href="#m3a58cf84ba" x="1007.237" y="587.007" style="fill: #1f77b4; stroke: #1f77b4" />
     <use href="#m3a58cf84ba" x="1032.888" y="587.009" style="fill: #1f77b4; stroke: #1f77b4" />
     <use href="#m3a58cf84ba" x="1058.540" y="587.010" style="fill: #1f77b4; stroke: #1f77b4" />
     <use href="#m3a58cf84ba" x="1084.191" y="587.011" style="fill: #1f77b4; stroke: #1f77b4" />
     <use href="#m3a58cf84ba" x="1109.842" y="587.011" style="fill: #1f77b4; stroke: #1f77b4" />
     <use href="#m3a58cf84ba" x="1135.493" y="587.012" style="fill: #1f77b4; stroke: #1f77b4" />
     <use href="#m3a58cf84ba" x="1161.144" y="587.012" style="fill: #1f77b4; stroke: #1f77b4" />
     <use href="#m3a58cf84ba" x="1186.796" y="587.012" style="fill: #1f77b4; stroke: #1f77b4" />
     <use href="#m3a58cf84ba" x="1212.447" y="587.012" style="fill: #1f77b4; stroke: #1f77b4" />
     <use href="#m3a58cf84ba" x="1238.098" y="587.012" style="fill: #1f77b4; stroke: #1f77b4" />
     <use href="#m3a58cf84ba" x="1263.749" y="587.012" style="fill: #1f77b4; stroke: #1f77b4" />
     <use href="#m3a58cf84ba" x="1289.400" y="587.012" style="fill: #1f77b4; stroke: #1f77b4" />
     <use href="#m3a58cf84ba" x="1315.052" y="587.012" style="fill: #1f77b4; stroke: #1f77b4" />
     <use href="#m3a58cf84ba" x="1340.703" y="587.012" style="fill: #1f77b4; stroke: #1f77b4" />
     <use href="#m3a58cf84ba" x="1366.354" y="587.012" style="fill: #1f77b4; stroke: #1f77b4" />
    </g>
   </g>
   <g id="line2d_56">
    <path d="M 109.445 457.434  L 135.096 405.602  L 160.747 393.940  L 186.399 405.408  L 212.050 428.146  L 237.701 454.838  L 263.352 481.203  L 289.003 504.983  L 314.655 525.205  L 340.306 541.675  L 365.957 554.631  L 391.608 564.523  L 417.259 571.871  L 442.911 577.186  L 468.562 580.928  L 494.213 583.486  L 519.864 585.177  L 545.515 586.249  L 571.167 586.892  L 596.818 587.247  L 622.469 587.416  L 648.120 587.469  L 673.771 587.455  L 699.423 587.408  L 725.074 587.346  L 750.725 587.282  L 776.376 587.224  L 802.028 587.173  L 827.679 587.131  L 853.330 587.098  L 878.981 587.072  L 904.632 587.053  L 930.284 587.039  L 955.935 587.029  L 981.586 587.022  L 1007.237 587.017  L 1032.888 587.014  L 1058.540 587.012  L 1084.191 587.011  L 1109.842 587.011  L 1135.493 587.011  L 1161.144 587.011  L 1186.796 587.011  L 1212.447 587.011  L 1238.098 587.011  L 1263.749 587.011  L 1289.400 587.011  L 1315.052 587.011  L 1340.703 587.012  L 1366.354 587.012  " clip-path="url(#pa5035410b3)" style="fill: none; stroke: #ff7f0e; stroke-width: 1.5; stroke-linecap: square" />
    <defs>
     <path id="mac0f037396" d="M 0 1.5  C 0.397 1.5 0.779 1.341 1.060 1.060  C 1.341 0.779 1.5 0.397 1.5 0  C 1.5 -0.397 1.341 -0.779 1.060 -1.060  C 0.779 -1.341 0.397 -1.5 0 -1.5  C -0.397 -1.5 -0.779 -1.341 -1.060 -1.060  C -1.341 -0.779 -1.5 -0.397 -1.5 0  C -1.5 0.397 -1.341 0.779 -1.060 1.060  C -0.779 1.341 -0.397 1.5 0 1.5  z " style="stroke: #ff7f0e" />
    </defs>
    <g clip-path="url(#pa5035410b3)">
     <use href="#mac0f037396" x="109.445" y="457.434" style="fill: #ff7f0e; stroke: #ff7f0e" />
     <use href="#mac0f037396" x="135.096" y="405.602" style="fill: #ff7f0e; stroke: #ff7f0e" />
     <use href="#mac0f037396" x="160.747" y="393.940" style="fill: #ff7f0e; stroke: #ff7f0e" />
     <use href="#mac0f037396" x="186.399" y="405.408" style="fill: #ff7f0e; stroke: #ff7f0e" />
     <use href="#mac0f037396" x="212.050" y="428.146" style="fill: #ff7f0e; stroke: #ff7f0e" />
     <use href="#mac0f037396" x="237.701" y="454.838" style="fill: #ff7f0e; stroke: #ff7f0e" />
     <use href="#mac0f037396" x="263.352" y="481.203" style="fill: #ff7f0e; stroke: #ff7f0e" />
     <use href="#mac0f037396" x="289.003" y="504.983" style="fill: #ff7f0e; stroke: #ff7f0e" />
     <use href="#mac0f037396" x="314.655" y="525.205" style="fill: #ff7f0e; stroke: #ff7f0e" />
     <use href="#mac0f037396" x="340.306" y="541.675" style="fill: #ff7f0e; stroke: #ff7f0e" />
     <use href="#mac0f037396" x="365.957" y="554.631" style="fill: #ff7f0e; stroke: #ff7f0e" />
     <use href="#mac0f037396" x="391.608" y="564.523" style="fill: #ff7f0e; stroke: #ff7f0e" />
     <use href="#mac0f037396" x="417.259" y="571.871" style="fill: #ff7f0e; stroke: #ff7f0e" />
     <use href="#mac0f037396" x="442.911" y="577.186" style="fill: #ff7f0e; stroke: #ff7f0e" />
     <use href="#mac0f037396" x="468.562" y="580.928" style="fill: #ff7f0e; stroke: #ff7f0e" />
     <use href="#mac0f037396" x="494.213" y="583.486" style="fill: #ff7f0e; stroke: #ff7f0e" />
     <use href="#mac0f037396" x="519.864" y="585.177" style="fill: #ff7f0e; stroke: #ff7f0e" />
     <use href="#mac0f037396" x="545.515" y="586.249" style="fill: #ff7f0e; stroke: #ff7f0e" />
     <use href="#mac0f037396" x="571.167" y="586.892" style="fill: #ff7f0e; stroke: #ff7f0e" />
     <use href="#mac0f037396" x="596.818" y="587.247" style="fill: #ff7f0e; stroke: #ff7f0e" />
     <use href="#mac0f037396" x="622.469" y="587.416" style="fill: #ff7f0e; stroke: #ff7f0e" />
     <use href="#mac0f037396" x="648.120" y="587.469" style="fill: #ff7f0e; stroke: #ff7f0e" />
     <use href="#mac0f037396" x="673.771" y="587.455" style="fill: #ff7f0e; stroke: #ff7f0e" />
     <use href="#mac0f037396" x="699.423" y="587.408" style="fill: #ff7f0e; stroke: #ff7f0e" />
     <use href="#mac0f037396" x="725.074" y="587.346" style="fill: #ff7f0e; stroke: #ff7f0e" />
     <use href="#mac0f037396" x="750.725" y="587.282" style="fill: #ff7f0e; stroke: #ff7f0e" />
     <use href="#mac0f037396" x="776.376" y="587.224" style="fill: #ff7f0e; stroke: #ff7f0e" />
     <use href="#mac0f037396" x="802.028" y="587.173" style="fill: #ff7f0e; stroke: #ff7f0e" />
     <use href="#mac0f037396" x="827.679" y="587.131" style="fill: #ff7f0e; stroke: #ff7f0e" />
     <use href="#mac0f037396" x="853.330" y="587.098" style="fill: #ff7f0e; stroke: #ff7f0e" />
     <use href="#mac0f037396" x="878.981" y="587.072" style="fill: #ff7f0e; stroke: #ff7f0e" />
     <use href="#mac0f037396" x="904.632" y="587.053" style="fill: #ff7f0e; stroke: #ff7f0e" />
     <use href="#mac0f037396" x="930.284" y="587.039" style="fill: #ff7f0e; stroke: #ff7f0e" />
     <use href="#mac0f037396" x="955.935" y="587.029" style="fill: #ff7f0e; stroke: #ff7f0e" />
     <use href="#mac0f037396" x="981.586" y="587.022" style="fill: #ff7f0e; stroke: #ff7f0e" />
     <use href="#mac0f037396" x="1007.237" y="587.017" style="fill: #ff7f0e; stroke: #ff7f0e" />
     <use href="#mac0f037396" x="1032.888" y="587.014" style="fill: #ff7f0e; stroke: #ff7f0e" />
     <use href="#mac0f037396" x="1058.540" y="587.012" style="fill: #ff7f0e; stroke: #ff7f0e" />
     <use href="#mac0f037396" x="1084.191" y="587.011" style="fill: #ff7f0e; stroke: #ff7f0e" />
     <use href="#mac0f037396" x="1109.842" y="587.011" style="fill: #ff7f0e; stroke: #ff7f0e" />
     <use href="#mac0f037396" x="1135.493" y="587.011" style="fill: #ff7f0e; stroke: #ff7f0e" />
     <use href="#mac0f037396" x="1161.144" y="587.011" style="fill: #ff7f0e; stroke: #ff7f0e" />
     <use href="#mac0f037396" x="1186.796" y="587.011" style="fill: #ff7f0e; stroke: #ff7f0e" />
     <use href="#mac0f037396" x="1212.447" y="587.011" style="fill: #ff7f0e; stroke: #ff7f0e" />
     <use href="#mac0f037396" x="1238.098" y="587.011" style="fill: #ff7f0e; stroke: #ff7f0e" />
     <use href="#mac0f037396" x="1263.749" y="587.011" style="fill: #ff7f0e; stroke: #ff7f0e" />
     <use href="#mac0f037396" x="1289.400" y="587.011" style="fill: #ff7f0e; stroke: #ff7f0e" />
     <use href="#mac0f037396" x="1315.052" y="587.011" style="fill: #ff7f0e; stroke: #ff7f0e" />
     <use href="#mac0f037396" x="1340.703" y="587.012" style="fill: #ff7f0e; stroke: #ff7f0e" />
     <use href="#mac0f037396" x="1366.354" y="587.012" style="fill: #ff7f0e; stroke: #ff7f0e" />
    </g>
   </g>
   <g id="line2d_57">
    <path d="M 109.445 587.012  L 135.096 664.759  L 160.747 627.181  L 186.399 610.141  L 212.050 598.282  L 237.701 590.966  L 263.352 586.685  L 289.003 584.426  L 314.655 583.454  L 340.306 583.259  L 365.957 583.498  L 391.608 583.947  L 417.259 584.468  L 442.911 584.979  L 468.562 585.438  L 494.213 585.828  L 519.864 586.145  L 545.515 586.393  L 571.167 586.583  L 596.818 586.723  L 622.469 586.825  L 648.120 586.896  L 673.771 586.945  L 699.423 586.977  L 725.074 586.998  L 750.725 587.010  L 776.376 587.017  L 802.028 587.020  L 827.679 587.021  L 853.330 587.020  L 878.981 587.019  L 904.632 587.018  L 930.284 587.017  L 955.935 587.016  L 981.586 587.015  L 1007.237 587.014  L 1032.888 587.013  L 1058.540 587.013  L 1084.191 587.013  L 1109.842 587.012  L 1135.493 587.012  L 1161.144 587.012  L 1186.796 587.012  L 1212.447 587.012  L 1238.098 587.012  L 1263.749 587.012  L 1289.400 587.012  L 1315.052 587.012  L 1340.703 587.012  L 1366.354 587.012  " clip-path="url(#pa5035410b3)" style="fill: none; stroke: #2ca02c; stroke-width: 1.5; stroke-linecap: square" />
    <defs>
     <path id="mbd5a909ff6" d="M 0 1.5  C 0.397 1.5 0.779 1.341 1.060 1.060  C 1.341 0.779 1.5 0.397 1.5 0  C 1.5 -0.397 1.341 -0.779 1.060 -1.060  C 0.779 -1.341 0.397 -1.5 0 -1.5  C -0.397 -1.5 -0.779 -1.341 -1.060 -1.060  C -1.341 -0.779 -1.5 -0.397 -1.5 0  C -1.5 0.397 -1.341 0.779 -1.060 1.060  C -0.779 1.341 -0.397 1.5 0 1.5  z " style="stroke: #2ca02c" />
    </defs>
    <g clip-path="url(#pa5035410b3)">
     <use href="#mbd5a909ff6" x="109.445" y="587.012" style="fill: #2ca02c; stroke: #2ca02c" />
     <use href="#mbd5a909ff6" x="135.096" y="664.759" style="fill: #2ca02c; stroke: #2ca02c" />
     <use href="#mbd5a909ff6" x="160.747" y="627.181" style="fill: #2ca02c; stroke: #2ca02c" />
     <use href="#mbd5a909ff6" x="186.399" y="610.141" style="fill: #2ca02c; stroke: #2ca02c" />
     <use href="#mbd5a909ff6" x="212.050" y="598.282" style="fill: #2ca02c; stroke: #2ca02c" />
     <use href="#mbd5a909ff6" x="237.701" y="590.966" style="fill: #2ca02c; stroke: #2ca02c" />
     <use href="#mbd5a909ff6" x="263.352" y="586.685" style="fill: #2ca02c; stroke: #2ca02c" />
     <use href="#mbd5a909ff6" x="289.003" y="584.426" style="fill: #2ca02c; stroke: #2ca02c" />
     <use href="#mbd5a909ff6" x="314.655" y="583.454" style="fill: #2ca02c; stroke: #2ca02c" />
     <use href="#mbd5a909ff6" x="340.306" y="583.259" style="fill: #2ca02c; stroke: #2ca02c" />
     <use href="#mbd5a909ff6" x="365.957" y="583.498" style="fill: #2ca02c; stroke: #2ca02c" />
     <use href="#mbd5a909ff6" x="391.608" y="583.947" style="fill: #2ca02c; stroke: #2ca02c" />
     <use href="#mbd5a909ff6" x="417.259" y="584.468" style="fill: #2ca02c; stroke: #2ca02c" />
     <use href="#mbd5a909ff6" x="442.911" y="584.979" style="fill: #2ca02c; stroke: #2ca02c" />
     <use href="#mbd5a909ff6" x="468.562" y="585.438" style="fill: #2ca02c; stroke: #2ca02c" />
     <use href="#mbd5a909ff6" x="494.213" y="585.828" style="fill: #2ca02c; stroke: #2ca02c" />
     <use href="#mbd5a909ff6" x="519.864" y="586.145" style="fill: #2ca02c; stroke: #2ca02c" />
     <use href="#mbd5a909ff6" x="545.515" y="586.393" style="fill: #2ca02c; stroke: #2ca02c" />
     <use href="#mbd5a909ff6" x="571.167" y="586.583" style="fill: #2ca02c; stroke: #2ca02c" />
     <use href="#mbd5a909ff6" x="596.818" y="586.723" style="fill: #2ca02c; stroke: #2ca02c" />
     <use href="#mbd5a909ff6" x="622.469" y="586.825" style="fill: #2ca02c; stroke: #2ca02c" />
     <use href="#mbd5a909ff6" x="648.120" y="586.896" style="fill: #2ca02c; stroke: #2ca02c" />
     <use href="#mbd5a909ff6" x="673.771" y="586.945" style="fill: #2ca02c; stroke: #2ca02c" />
     <use href="#mbd5a909ff6" x="699.423" y="586.977" style="fill: #2ca02c; stroke: #2ca02c" />
     <use href="#mbd5a909ff6" x="725.074" y="586.998" style="fill: #2ca02c; stroke: #2ca02c" />
     <use href="#mbd5a909ff6" x="750.725" y="587.010" style="fill: #2ca02c; stroke: #2ca02c" />
     <use href="#mbd5a909ff6" x="776.376" y="587.017" style="fill: #2ca02c; stroke: #2ca02c" />
     <use href="#mbd5a909ff6" x="802.028" y="587.020" style="fill: #2ca02c; stroke: #2ca02c" />
     <use href="#mbd5a909ff6" x="827.679" y="587.021" style="fill: #2ca02c; stroke: #2ca02c" />
     <use href="#mbd5a909ff6" x="853.330" y="587.020" style="fill: #2ca02c; stroke: #2ca02c" />
     <use href="#mbd5a909ff6" x="878.981" y="587.019" style="fill: #2ca02c; stroke: #2ca02c" />
     <use href="#mbd5a909ff6" x="904.632" y="587.018" style="fill: #2ca02c; stroke: #2ca02c" />
     <use href="#mbd5a909ff6" x="930.284" y="587.017" style="fill: #2ca02c; stroke: #2ca02c" />
     <use href="#mbd5a909ff6" x="955.935" y="587.016" style="fill: #2ca02c; stroke: #2ca02c" />
     <use href="#mbd5a909ff6" x="981.586" y="587.015" style="fill: #2ca02c; stroke: #2ca02c" />
     <use href="#mbd5a909ff6" x="1007.237" y="587.014" style="fill: #2ca02c; stroke: #2ca02c" />
     <use href="#mbd5a909ff6" x="1032.888" y="587.013" style="fill: #2ca02c; stroke: #2ca02c" />
     <use href="#mbd5a909ff6" x="1058.540" y="587.013" style="fill: #2ca02c; stroke: #2ca02c" />
     <use href="#mbd5a909ff6" x="1084.191" y="587.013" style="fill: #2ca02c; stroke: #2ca02c" />
     <use href="#mbd5a909ff6" x="1109.842" y="587.012" style="fill: #2ca02c; stroke: #2ca02c" />
     <use href="#mbd5a909ff6" x="1135.493" y="587.012" style="fill: #2ca02c; stroke: #2ca02c" />
     <use href="#mbd5a909ff6" x="1161.144" y="587.012" style="fill: #2ca02c; stroke: #2ca02c" />
     <use href="#mbd5a909ff6" x="1186.796" y="587.012" style="fill: #2ca02c; stroke: #2ca02c" />
     <use href="#mbd5a909ff6" x="1212.447" y="587.012" style="fill: #2ca02c; stroke: #2ca02c" />
     <use href="#mbd5a909ff6" x="1238.098" y="587.012" style="fill: #2ca02c; stroke: #2ca02c" />
     <use href="#mbd5a909ff6" x="1263.749" y="587.012" style="fill: #2ca02c; stroke: #2ca02c" />
     <use href="#mbd5a909ff6" x="1289.400" y="587.012" style="fill: #2ca02c; stroke: #2ca02c" />
     <use href="#mbd5a909ff6" x="1315.052" y="587.012" style="fill: #2ca02c; stroke: #2ca02c" />
     <use href="#mbd5a909ff6" x="1340.703" y="587.012" style="fill: #2ca02c; stroke: #2ca02c" />
     <use href="#mbd5a909ff6" x="1366.354" y="587.012" style="fill: #2ca02c; stroke: #2ca02c" />
    </g>
   </g>
   <g id="line2d_58">
    <path d="M 109.445 509.265  L 135.096 546.843  L 160.747 563.882  L 186.399 575.742  L 212.050 583.058  L 237.701 587.338  L 263.352 589.597  L 289.003 590.570  L 314.655 590.764  L 340.306 590.525  L 365.957 590.076  L 391.608 589.556  L 417.259 589.044  L 442.911 588.585  L 468.562 588.196  L 494.213 587.879  L 519.864 587.630  L 545.515 587.441  L 571.167 587.300  L 596.818 587.198  L 622.469 587.127  L 648.120 587.078  L 673.771 587.046  L 699.423 587.026  L 725.074 587.014  L 750.725 587.007  L 776.376 587.004  L 802.028 587.003  L 827.679 587.003  L 853.330 587.004  L 878.981 587.005  L 904.632 587.007  L 930.284 587.008  L 955.935 587.009  L 981.586 587.009  L 1007.237 587.010  L 1032.888 587.011  L 1058.540 587.011  L 1084.191 587.011  L 1109.842 587.011  L 1135.493 587.012  L 1161.144 587.012  L 1186.796 587.012  L 1212.447 587.012  L 1238.098 587.012  L 1263.749 587.012  L 1289.400 587.012  L 1315.052 587.012  L 1340.703 587.012  L 1366.354 587.012  " clip-path="url(#pa5035410b3)" style="fill: none; stroke: #d62728; stroke-width: 1.5; stroke-linecap: square" />
    <defs>
     <path id="m9cd0b81748" d="M 0 -3  L -3 3  L 3 3  z " style="stroke: #d62728; stroke-linejoin: miter" />
    </defs>
    <g clip-path="url(#pa5035410b3)">
     <use href="#m9cd0b81748" x="109.445" y="509.265" style="fill: #d62728; stroke: #d62728; stroke-linejoin: miter" />
     <use href="#m9cd0b81748" x="135.096" y="546.843" style="fill: #d62728; stroke: #d62728; stroke-linejoin: miter" />
     <use href="#m9cd0b81748" x="160.747" y="563.882" style="fill: #d62728; stroke: #d62728; stroke-linejoin: miter" />
     <use href="#m9cd0b81748" x="186.399" y="575.742" style="fill: #d62728; stroke: #d62728; stroke-linejoin: miter" />
     <use href="#m9cd0b81748" x="212.050" y="583.058" style="fill: #d62728; stroke: #d62728; stroke-linejoin: miter" />
     <use href="#m9cd0b81748" x="237.701" y="587.338" style="fill: #d62728; stroke: #d62728; stroke-linejoin: miter" />
     <use href="#m9cd0b81748" x="263.352" y="589.597" style="fill: #d62728; stroke: #d62728; stroke-linejoin: miter" />
     <use href="#m9cd0b81748" x="289.003" y="590.570" style="fill: #d62728; stroke: #d62728; stroke-linejoin: miter" />
     <use href="#m9cd0b81748" x="314.655" y="590.764" style="fill: #d62728; stroke: #d62728; stroke-linejoin: miter" />
     <use href="#m9cd0b81748" x="340.306" y="590.525" style="fill: #d62728; stroke: #d62728; stroke-linejoin: miter" />
     <use href="#m9cd0b81748" x="365.957" y="590.076" style="fill: #d62728; stroke: #d62728; stroke-linejoin: miter" />
     <use href="#m9cd0b81748" x="391.608" y="589.556" style="fill: #d62728; stroke: #d62728; stroke-linejoin: miter" />
     <use href="#m9cd0b81748" x="417.259" y="589.044" style="fill: #d62728; stroke: #d62728; stroke-linejoin: miter" />
     <use href="#m9cd0b81748" x="442.911" y="588.585" style="fill: #d62728; stroke: #d62728; stroke-linejoin: miter" />
     <use href="#m9cd0b81748" x="468.562" y="588.196" style="fill: #d62728; stroke: #d62728; stroke-linejoin: miter" />
     <use href="#m9cd0b81748" x="494.213" y="587.879" style="fill: #d62728; stroke: #d62728; stroke-linejoin: miter" />
     <use href="#m9cd0b81748" x="519.864" y="587.630" style="fill: #d62728; stroke: #d62728; stroke-linejoin: miter" />
     <use href="#m9cd0b81748" x="545.515" y="587.441" style="fill: #d62728; stroke: #d62728; stroke-linejoin: miter" />
     <use href="#m9cd0b81748" x="571.167" y="587.300" style="fill: #d62728; stroke: #d62728; stroke-linejoin: miter" />
     <use href="#m9cd0b81748" x="596.818" y="587.198" style="fill: #d62728; stroke: #d62728; stroke-linejoin: miter" />
     <use href="#m9cd0b81748" x="622.469" y="587.127" style="fill: #d62728; stroke: #d62728; stroke-linejoin: miter" />
     <use href="#m9cd0b81748" x="648.120" y="587.078" style="fill: #d62728; stroke: #d62728; stroke-linejoin: miter" />
     <use href="#m9cd0b81748" x="673.771" y="587.046" style="fill: #d62728; stroke: #d62728; stroke-linejoin: miter" />
     <use href="#m9cd0b81748" x="699.423" y="587.026" style="fill: #d62728; stroke: #d62728; stroke-linejoin: miter" />
     <use href="#m9cd0b81748" x="725.074" y="587.014" style="fill: #d62728; stroke: #d62728; stroke-linejoin: miter" />
     <use href="#m9cd0b81748" x="750.725" y="587.007" style="fill: #d62728; stroke: #d62728; stroke-linejoin: miter" />
     <use href="#m9cd0b81748" x="776.376" y="587.004" style="fill: #d62728; stroke: #d62728; stroke-linejoin: miter" />
     <use href="#m9cd0b81748" x="802.028" y="587.003" style="fill: #d62728; stroke: #d62728; stroke-linejoin: miter" />
     <use href="#m9cd0b81748" x="827.679" y="587.003" style="fill: #d62728; stroke: #d62728; stroke-linejoin: miter" />
     <use href="#m9cd0b81748" x="853.330" y="587.004" style="fill: #d62728; stroke: #d62728; stroke-linejoin: miter" />
     <use href="#m9cd0b81748" x="878.981" y="587.005" style="fill: #d62728; stroke: #d62728; stroke-linejoin: miter" />
     <use href="#m9cd0b81748" x="904.632" y="587.007" style="fill: #d62728; stroke: #d62728; stroke-linejoin: miter" />
     <use href="#m9cd0b81748" x="930.284" y="587.008" style="fill: #d62728; stroke: #d62728; stroke-linejoin: miter" />
     <use href="#m9cd0b81748" x="955.935" y="587.009" style="fill: #d62728; stroke: #d62728; stroke-linejoin: miter" />
     <use href="#m9cd0b81748" x="981.586" y="587.009" style="fill: #d62728; stroke: #d62728; stroke-linejoin: miter" />
     <use href="#m9cd0b81748" x="1007.237" y="587.010" style="fill: #d62728; stroke: #d62728; stroke-linejoin: miter" />
     <use href="#m9cd0b81748" x="1032.888" y="587.011" style="fill: #d62728; stroke: #d62728; stroke-linejoin: miter" />
     <use href="#m9cd0b81748" x="1058.540" y="587.011" style="fill: #d62728; stroke: #d62728; stroke-linejoin: miter" />
     <use href="#m9cd0b81748" x="1084.191" y="587.011" style="fill: #d62728; stroke: #d62728; stroke-linejoin: miter" />
     <use href="#m9cd0b81748" x="1109.842" y="587.011" style="fill: #d62728; stroke: #d62728; stroke-linejoin: miter" />
     <use href="#m9cd0b81748" x="1135.493" y="587.012" style="fill: #d62728; stroke: #d62728; stroke-linejoin: miter" />
     <use href="#m9cd0b81748" x="1161.144" y="587.012" style="fill: #d62728; stroke: #d62728; stroke-linejoin: miter" />
     <use href="#m9cd0b81748" x="1186.796" y="587.012" style="fill: #d62728; stroke: #d62728; stroke-linejoin: miter" />
     <use href="#m9cd0b81748" x="1212.447" y="587.012" style="fill: #d62728; stroke: #d62728; stroke-linejoin: miter" />
     <use href="#m9cd0b81748" x="1238.098" y="587.012" style="fill: #d62728; stroke: #d62728; stroke-linejoin: miter" />
     <use href="#m9cd0b81748" x="1263.749" y="587.012" style="fill: #d62728; stroke: #d62728; stroke-linejoin: miter" />
     <use href="#m9cd0b81748" x="1289.400" y="587.012" style="fill: #d62728; stroke: #d62728; stroke-linejoin: miter" />
     <use href="#m9cd0b81748" x="1315.052" y="587.012" style="fill: #d62728; stroke: #d62728; stroke-linejoin: miter" />
     <use href="#m9cd0b81748" x="1340.703" y="587.012" style="fill: #d62728; stroke: #d62728; stroke-linejoin: miter" />
     <use href="#m9cd0b81748" x="1366.354" y="587.012" style="fill: #d62728; stroke: #d62728; stroke-linejoin: miter" />
    </g>
   </g>
   <g id="line2d_59">
    <path d="M 109.445 522.223  L 135.096 561.096  L 160.747 581.181  L 186.399 592.746  L 212.050 598.381  L 237.701 600.358  L 263.352 600.195  L 289.003 598.902  L 314.655 597.123  L 340.306 595.247  L 365.957 593.490  L 391.608 591.958  L 417.259 590.686  L 442.911 589.669  L 468.562 588.883  L 494.213 588.291  L 519.864 587.857  L 545.515 587.548  L 571.167 587.333  L 596.818 587.189  L 622.469 587.096  L 648.120 587.038  L 673.771 587.005  L 699.423 586.988  L 725.074 586.981  L 750.725 586.980  L 776.376 586.982  L 802.028 586.986  L 827.679 586.991  L 853.330 586.995  L 878.981 586.999  L 904.632 587.002  L 930.284 587.005  L 955.935 587.007  L 981.586 587.008  L 1007.237 587.009  L 1032.888 587.010  L 1058.540 587.011  L 1084.191 587.011  L 1109.842 587.011  L 1135.493 587.012  L 1161.144 587.012  L 1186.796 587.012  L 1212.447 587.012  L 1238.098 587.012  L 1263.749 587.012  L 1289.400 587.012  L 1315.052 587.012  L 1340.703 587.012  L 1366.354 587.012  " clip-path="url(#pa5035410b3)" style="fill: none; stroke: #9467bd; stroke-width: 1.5; stroke-linecap: square" />
    <defs>
     <path id="m45e5338ab8" d="M -3 3  L 3 -3  M -3 -3  L 3 3  " style="stroke: #9467bd" />
    </defs>
    <g clip-path="url(#pa5035410b3)">
     <use href="#m45e5338ab8" x="109.445" y="522.223" style="fill: #9467bd; stroke: #9467bd" />
     <use href="#m45e5338ab8" x="135.096" y="561.096" style="fill: #9467bd; stroke: #9467bd" />
     <use href="#m45e5338ab8" x="160.747" y="581.181" style="fill: #9467bd; stroke: #9467bd" />
     <use href="#m45e5338ab8" x="186.399" y="592.746" style="fill: #9467bd; stroke: #9467bd" />
     <use href="#m45e5338ab8" x="212.050" y="598.381" style="fill: #9467bd; stroke: #9467bd" />
     <use href="#m45e5338ab8" x="237.701" y="600.358" style="fill: #9467bd; stroke: #9467bd" />
     <use href="#m45e5338ab8" x="263.352" y="600.195" style="fill: #9467bd; stroke: #9467bd" />
     <use href="#m45e5338ab8" x="289.003" y="598.902" style="fill: #9467bd; stroke: #9467bd" />
     <use href="#m45e5338ab8" x="314.655" y="597.123" style="fill: #9467bd; stroke: #9467bd" />
     <use href="#m45e5338ab8" x="340.306" y="595.247" style="fill: #9467bd; stroke: #9467bd" />
     <use href="#m45e5338ab8" x="365.957" y="593.490" style="fill: #9467bd; stroke: #9467bd" />
     <use href="#m45e5338ab8" x="391.608" y="591.958" style="fill: #9467bd; stroke: #9467bd" />
     <use href="#m45e5338ab8" x="417.259" y="590.686" style="fill: #9467bd; stroke: #9467bd" />
     <use href="#m45e5338ab8" x="442.911" y="589.669" style="fill: #9467bd; stroke: #9467bd" />
     <use href="#m45e5338ab8" x="468.562" y="588.883" style="fill: #9467bd; stroke: #9467bd" />
     <use href="#m45e5338ab8" x="494.213" y="588.291" style="fill: #9467bd; stroke: #9467bd" />
     <use href="#m45e5338ab8" x="519.864" y="587.857" style="fill: #9467bd; stroke: #9467bd" />
     <use href="#m45e5338ab8" x="545.515" y="587.548" style="fill: #9467bd; stroke: #9467bd" />
     <use href="#m45e5338ab8" x="571.167" y="587.333" style="fill: #9467bd; stroke: #9467bd" />
     <use href="#m45e5338ab8" x="596.818" y="587.189" style="fill: #9467bd; stroke: #9467bd" />
     <use href="#m45e5338ab8" x="622.469" y="587.096" style="fill: #9467bd; stroke: #9467bd" />
     <use href="#m45e5338ab8" x="648.120" y="587.038" style="fill: #9467bd; stroke: #9467bd" />
     <use href="#m45e5338ab8" x="673.771" y="587.005" style="fill: #9467bd; stroke: #9467bd" />
     <use href="#m45e5338ab8" x="699.423" y="586.988" style="fill: #9467bd; stroke: #9467bd" />
     <use href="#m45e5338ab8" x="725.074" y="586.981" style="fill: #9467bd; stroke: #9467bd" />
     <use href="#m45e5338ab8" x="750.725" y="586.980" style="fill: #9467bd; stroke: #9467bd" />
     <use href="#m45e5338ab8" x="776.376" y="586.982" style="fill: #9467bd; stroke: #9467bd" />
     <use href="#m45e5338ab8" x="802.028" y="586.986" style="fill: #9467bd; stroke: #9467bd" />
     <use href="#m45e5338ab8" x="827.679" y="586.991" style="fill: #9467bd; stroke: #9467bd" />
     <use href="#m45e5338ab8" x="853.330" y="586.995" style="fill: #9467bd; stroke: #9467bd" />
     <use href="#m45e5338ab8" x="878.981" y="586.999" style="fill: #9467bd; stroke: #9467bd" />
     <use href="#m45e5338ab8" x="904.632" y="587.002" style="fill: #9467bd; stroke: #9467bd" />
     <use href="#m45e5338ab8" x="930.284" y="587.005" style="fill: #9467bd; stroke: #9467bd" />
     <use href="#m45e5338ab8" x="955.935" y="587.007" style="fill: #9467bd; stroke: #9467bd" />
     <use href="#m45e5338ab8" x="981.586" y="587.008" style="fill: #9467bd; stroke: #9467bd" />
     <use href="#m45e5338ab8" x="1007.237" y="587.009" style="fill: #9467bd; stroke: #9467bd" />
     <use href="#m45e5338ab8" x="1032.888" y="587.010" style="fill: #9467bd; stroke: #9467bd" />
     <use href="#m45e5338ab8" x="1058.540" y="587.011" style="fill: #9467bd; stroke: #9467bd" />
     <use href="#m45e5338ab8" x="1084.191" y="587.011" style="fill: #9467bd; stroke: #9467bd" />
     <use href="#m45e5338ab8" x="1109.842" y="587.011" style="fill: #9467bd; stroke: #9467bd" />
     <use href="#m45e5338ab8" x="1135.493" y="587.012" style="fill: #9467bd; stroke: #9467bd" />
     <use href="#m45e5338ab8" x="1161.144" y="587.012" style="fill: #9467bd; stroke: #9467bd" />
     <use href="#m45e5338ab8" x="1186.796" y="587.012" style="fill: #9467bd; stroke: #9467bd" />
     <use href="#m45e5338ab8" x="1212.447" y="587.012" style="fill: #9467bd; stroke: #9467bd" />
     <use href="#m45e5338ab8" x="1238.098" y="587.012" style="fill: #9467bd; stroke: #9467bd" />
     <use href="#m45e5338ab8" x="1263.749" y="587.012" style="fill: #9467bd; stroke: #9467bd" />
     <use href="#m45e5338ab8" x="1289.400" y="587.012" style="fill: #9467bd; stroke: #9467bd" />
     <use href="#m45e5338ab8" x="1315.052" y="587.012" style="fill: #9467bd; stroke: #9467bd" />
     <use href="#m45e5338ab8" x="1340.703" y="587.012" style="fill: #9467bd; stroke: #9467bd" />
     <use href="#m45e5338ab8" x="1366.354" y="587.012" style="fill: #9467bd; stroke: #9467bd" />
    </g>
   </g>
   <g id="line2d_60">
    <path d="M 109.445 574.054  L 135.096 568.871  L 160.747 567.705  L 186.399 568.851  L 212.050 571.125  L 237.701 573.794  L 263.352 576.431  L 289.003 578.809  L 314.655 580.831  L 340.306 582.478  L 365.957 583.774  L 391.608 584.763  L 417.259 585.498  L 442.911 586.029  L 468.562 586.403  L 494.213 586.659  L 519.864 586.828  L 545.515 586.935  L 571.167 587.000  L 596.818 587.035  L 622.469 587.052  L 648.120 587.057  L 673.771 587.056  L 699.423 587.051  L 725.074 587.045  L 750.725 587.039  L 776.376 587.033  L 802.028 587.028  L 827.679 587.024  L 853.330 587.020  L 878.981 587.018  L 904.632 587.016  L 930.284 587.014  L 955.935 587.013  L 981.586 587.013  L 1007.237 587.012  L 1032.888 587.012  L 1058.540 587.012  L 1084.191 587.012  L 1109.842 587.012  L 1135.493 587.012  L 1161.144 587.012  L 1186.796 587.012  L 1212.447 587.012  L 1238.098 587.012  L 1263.749 587.012  L 1289.400 587.012  L 1315.052 587.012  L 1340.703 587.012  L 1366.354 587.012  " clip-path="url(#pa5035410b3)" style="fill: none; stroke: #8c564b; stroke-width: 1.5; stroke-linecap: square" />
    <defs>
     <path id="mc35e30c7c0" d="M -3 3  L 3 -3  M -3 -3  L 3 3  " style="stroke: #8c564b" />
    </defs>
    <g clip-path="url(#pa5035410b3)">
     <use href="#mc35e30c7c0" x="109.445" y="574.054" style="fill: #8c564b; stroke: #8c564b" />
     <use href="#mc35e30c7c0" x="135.096" y="568.871" style="fill: #8c564b; stroke: #8c564b" />
     <use href="#mc35e30c7c0" x="160.747" y="567.705" style="fill: #8c564b; stroke: #8c564b" />
     <use href="#mc35e30c7c0" x="186.399" y="568.851" style="fill: #8c564b; stroke: #8c564b" />
     <use href="#mc35e30c7c0" x="212.050" y="571.125" style="fill: #8c564b; stroke: #8c564b" />
     <use href="#mc35e30c7c0" x="237.701" y="573.794" style="fill: #8c564b; stroke: #8c564b" />
     <use href="#mc35e30c7c0" x="263.352" y="576.431" style="fill: #8c564b; stroke: #8c564b" />
     <use href="#mc35e30c7c0" x="289.003" y="578.809" style="fill: #8c564b; stroke: #8c564b" />
     <use href="#mc35e30c7c0" x="314.655" y="580.831" style="fill: #8c564b; stroke: #8c564b" />
     <use href="#mc35e30c7c0" x="340.306" y="582.478" style="fill: #8c564b; stroke: #8c564b" />
     <use href="#mc35e30c7c0" x="365.957" y="583.774" style="fill: #8c564b; stroke: #8c564b" />
     <use href="#mc35e30c7c0" x="391.608" y="584.763" style="fill: #8c564b; stroke: #8c564b" />
     <use href="#mc35e30c7c0" x="417.259" y="585.498" style="fill: #8c564b; stroke: #8c564b" />
     <use href="#mc35e30c7c0" x="442.911" y="586.029" style="fill: #8c564b; stroke: #8c564b" />
     <use href="#mc35e30c7c0" x="468.562" y="586.403" style="fill: #8c564b; stroke: #8c564b" />
     <use href="#mc35e30c7c0" x="494.213" y="586.659" style="fill: #8c564b; stroke: #8c564b" />
     <use href="#mc35e30c7c0" x="519.864" y="586.828" style="fill: #8c564b; stroke: #8c564b" />
     <use href="#mc35e30c7c0" x="545.515" y="586.935" style="fill: #8c564b; stroke: #8c564b" />
     <use href="#mc35e30c7c0" x="571.167" y="587.000" style="fill: #8c564b; stroke: #8c564b" />
     <use href="#mc35e30c7c0" x="596.818" y="587.035" style="fill: #8c564b; stroke: #8c564b" />
     <use href="#mc35e30c7c0" x="622.469" y="587.052" style="fill: #8c564b; stroke: #8c564b" />
     <use href="#mc35e30c7c0" x="648.120" y="587.057" style="fill: #8c564b; stroke: #8c564b" />
     <use href="#mc35e30c7c0" x="673.771" y="587.056" style="fill: #8c564b; stroke: #8c564b" />
     <use href="#mc35e30c7c0" x="699.423" y="587.051" style="fill: #8c564b; stroke: #8c564b" />
     <use href="#mc35e30c7c0" x="725.074" y="587.045" style="fill: #8c564b; stroke: #8c564b" />
     <use href="#mc35e30c7c0" x="750.725" y="587.039" style="fill: #8c564b; stroke: #8c564b" />
     <use href="#mc35e30c7c0" x="776.376" y="587.033" style="fill: #8c564b; stroke: #8c564b" />
     <use href="#mc35e30c7c0" x="802.028" y="587.028" style="fill: #8c564b; stroke: #8c564b" />
     <use href="#mc35e30c7c0" x="827.679" y="587.024" style="fill: #8c564b; stroke: #8c564b" />
     <use href="#mc35e30c7c0" x="853.330" y="587.020" style="fill: #8c564b; stroke: #8c564b" />
     <use href="#mc35e30c7c0" x="878.981" y="587.018" style="fill: #8c564b; stroke: #8c564b" />
     <use href="#mc35e30c7c0" x="904.632" y="587.016" style="fill: #8c564b; stroke: #8c564b" />
     <use href="#mc35e30c7c0" x="930.284" y="587.014" style="fill: #8c564b; stroke: #8c564b" />
     <use href="#mc35e30c7c0" x="955.935" y="587.013" style="fill: #8c564b; stroke: #8c564b" />
     <use href="#mc35e30c7c0" x="981.586" y="587.013" style="fill: #8c564b; stroke: #8c564b" />
     <use href="#mc35e30c7c0" x="1007.237" y="587.012" style="fill: #8c564b; stroke: #8c564b" />
     <use href="#mc35e30c7c0" x="1032.888" y="587.012" style="fill: #8c564b; stroke: #8c564b" />
     <use href="#mc35e30c7c0" x="1058.540" y="587.012" style="fill: #8c564b; stroke: #8c564b" />
     <use href="#mc35e30c7c0" x="1084.191" y="587.012" style="fill: #8c564b; stroke: #8c564b" />
     <use href="#mc35e30c7c0" x="1109.842" y="587.012" style="fill: #8c564b; stroke: #8c564b" />
     <use href="#mc35e30c7c0" x="1135.493" y="587.012" style="fill: #8c564b; stroke: #8c564b" />
     <use href="#mc35e30c7c0" x="1161.144" y="587.012" style="fill: #8c564b; stroke: #8c564b" />
     <use href="#mc35e30c7c0" x="1186.796" y="587.012" style="fill: #8c564b; stroke: #8c564b" />
     <use href="#mc35e30c7c0" x="1212.447" y="587.012" style="fill: #8c564b; stroke: #8c564b" />
     <use href="#mc35e30c7c0" x="1238.098" y="587.012" style="fill: #8c564b; stroke: #8c564b" />
     <use href="#mc35e30c7c0" x="1263.749" y="587.012" style="fill: #8c564b; stroke: #8c564b" />
     <use href="#mc35e30c7c0" x="1289.400" y="587.012" style="fill: #8c564b; stroke: #8c564b" />
     <use href="#mc35e30c7c0" x="1315.052" y="587.012" style="fill: #8c564b; stroke: #8c564b" />
     <use href="#mc35e30c7c0" x="1340.703" y="587.012" style="fill: #8c564b; stroke: #8c564b" />
     <use href="#mc35e30c7c0" x="1366.354" y="587.012" style="fill: #8c564b; stroke: #8c564b" />
    </g>
   </g>
   <g id="line2d_61">
    <path d="M 109.445 587.012  L 135.096 590.899  L 160.747 589.020  L 186.399 588.168  L 212.050 587.575  L 237.701 587.209  L 263.352 586.995  L 289.003 586.882  L 314.655 586.834  L 340.306 586.824  L 365.957 586.836  L 391.608 586.859  L 417.259 586.885  L 442.911 586.910  L 468.562 586.933  L 494.213 586.953  L 519.864 586.968  L 545.515 586.981  L 571.167 586.990  L 596.818 586.997  L 622.469 587.002  L 648.120 587.006  L 673.771 587.008  L 699.423 587.010  L 725.074 587.011  L 750.725 587.012  L 776.376 587.012  L 802.028 587.012  L 827.679 587.012  L 853.330 587.012  L 878.981 587.012  L 904.632 587.012  L 930.284 587.012  L 955.935 587.012  L 981.586 587.012  L 1007.237 587.012  L 1032.888 587.012  L 1058.540 587.012  L 1084.191 587.012  L 1109.842 587.012  L 1135.493 587.012  L 1161.144 587.012  L 1186.796 587.012  L 1212.447 587.012  L 1238.098 587.012  L 1263.749 587.012  L 1289.400 587.012  L 1315.052 587.012  L 1340.703 587.012  L 1366.354 587.012  " clip-path="url(#pa5035410b3)" style="fill: none; stroke: #e377c2; stroke-width: 1.5; stroke-linecap: square" />
    <defs>
     <path id="m0beb4f4572" d="M -3 3  L 3 -3  M -3 -3  L 3 3  " style="stroke: #e377c2" />
    </defs>
    <g clip-path="url(#pa5035410b3)">
     <use href="#m0beb4f4572" x="109.445" y="587.012" style="fill: #e377c2; stroke: #e377c2" />
     <use href="#m0beb4f4572" x="135.096" y="590.899" style="fill: #e377c2; stroke: #e377c2" />
     <use href="#m0beb4f4572" x="160.747" y="589.020" style="fill: #e377c2; stroke: #e377c2" />
     <use href="#m0beb4f4572" x="186.399" y="588.168" style="fill: #e377c2; stroke: #e377c2" />
     <use href="#m0beb4f4572" x="212.050" y="587.575" style="fill: #e377c2; stroke: #e377c2" />
     <use href="#m0beb4f4572" x="237.701" y="587.209" style="fill: #e377c2; stroke: #e377c2" />
     <use href="#m0beb4f4572" x="263.352" y="586.995" style="fill: #e377c2; stroke: #e377c2" />
     <use href="#m0beb4f4572" x="289.003" y="586.882" style="fill: #e377c2; stroke: #e377c2" />
     <use href="#m0beb4f4572" x="314.655" y="586.834" style="fill: #e377c2; stroke: #e377c2" />
     <use href="#m0beb4f4572" x="340.306" y="586.824" style="fill: #e377c2; stroke: #e377c2" />
     <use href="#m0beb4f4572" x="365.957" y="586.836" style="fill: #e377c2; stroke: #e377c2" />
     <use href="#m0beb4f4572" x="391.608" y="586.859" style="fill: #e377c2; stroke: #e377c2" />
     <use href="#m0beb4f4572" x="417.259" y="586.885" style="fill: #e377c2; stroke: #e377c2" />
     <use href="#m0beb4f4572" x="442.911" y="586.910" style="fill: #e377c2; stroke: #e377c2" />
     <use href="#m0beb4f4572" x="468.562" y="586.933" style="fill: #e377c2; stroke: #e377c2" />
     <use href="#m0beb4f4572" x="494.213" y="586.953" style="fill: #e377c2; stroke: #e377c2" />
     <use href="#m0beb4f4572" x="519.864" y="586.968" style="fill: #e377c2; stroke: #e377c2" />
     <use href="#m0beb4f4572" x="545.515" y="586.981" style="fill: #e377c2; stroke: #e377c2" />
     <use href="#m0beb4f4572" x="571.167" y="586.990" style="fill: #e377c2; stroke: #e377c2" />
     <use href="#m0beb4f4572" x="596.818" y="586.997" style="fill: #e377c2; stroke: #e377c2" />
     <use href="#m0beb4f4572" x="622.469" y="587.002" style="fill: #e377c2; stroke: #e377c2" />
     <use href="#m0beb4f4572" x="648.120" y="587.006" style="fill: #e377c2; stroke: #e377c2" />
     <use href="#m0beb4f4572" x="673.771" y="587.008" style="fill: #e377c2; stroke: #e377c2" />
     <use href="#m0beb4f4572" x="699.423" y="587.010" style="fill: #e377c2; stroke: #e377c2" />
     <use href="#m0beb4f4572" x="725.074" y="587.011" style="fill: #e377c2; stroke: #e377c2" />
     <use href="#m0beb4f4572" x="750.725" y="587.012" style="fill: #e377c2; stroke: #e377c2" />
     <use href="#m0beb4f4572" x="776.376" y="587.012" style="fill: #e377c2; stroke: #e377c2" />
     <use href="#m0beb4f4572" x="802.028" y="587.012" style="fill: #e377c2; stroke: #e377c2" />
     <use href="#m0beb4f4572" x="827.679" y="587.012" style="fill: #e377c2; stroke: #e377c2" />
     <use href="#m0beb4f4572" x="853.330" y="587.012" style="fill: #e377c2; stroke: #e377c2" />
     <use href="#m0beb4f4572" x="878.981" y="587.012" style="fill: #e377c2; stroke: #e377c2" />
     <use href="#m0beb4f4572" x="904.632" y="587.012" style="fill: #e377c2; stroke: #e377c2" />
     <use href="#m0beb4f4572" x="930.284" y="587.012" style="fill: #e377c2; stroke: #e377c2" />
     <use href="#m0beb4f4572" x="955.935" y="587.012" style="fill: #e377c2; stroke: #e377c2" />
     <use href="#m0beb4f4572" x="981.586" y="587.012" style="fill: #e377c2; stroke: #e377c2" />
     <use href="#m0beb4f4572" x="1007.237" y="587.012" style="fill: #e377c2; stroke: #e377c2" />
     <use href="#m0beb4f4572" x="1032.888" y="587.012" style="fill: #e377c2; stroke: #e377c2" />
     <use href="#m0beb4f4572" x="1058.540" y="587.012" style="fill: #e377c2; stroke: #e377c2" />
     <use href="#m0beb4f4572" x="1084.191" y="587.012" style="fill: #e377c2; stroke: #e377c2" />
     <use href="#m0beb4f4572" x="1109.842" y="587.012" style="fill: #e377c2; stroke: #e377c2" />
     <use href="#m0beb4f4572" x="1135.493" y="587.012" style="fill: #e377c2; stroke: #e377c2" />
     <use href="#m0beb4f4572" x="1161.144" y="587.012" style="fill: #e377c2; stroke: #e377c2" />
     <use href="#m0beb4f4572" x="1186.796" y="587.012" style="fill: #e377c2; stroke: #e377c2" />
     <use href="#m0beb4f4572" x="1212.447" y="587.012" style="fill: #e377c2; stroke: #e377c2" />
     <use href="#m0beb4f4572" x="1238.098" y="587.012" style="fill: #e377c2; stroke: #e377c2" />
     <use href="#m0beb4f4572" x="1263.749" y="587.012" style="fill: #e377c2; stroke: #e377c2" />
     <use href="#m0beb4f4572" x="1289.400" y="587.012" style="fill: #e377c2; stroke: #e377c2" />
     <use href="#m0beb4f4572" x="1315.052" y="587.012" style="fill: #e377c2; stroke: #e377c2" />
     <use href="#m0beb4f4572" x="1340.703" y="587.012" style="fill: #e377c2; stroke: #e377c2" />
     <use href="#m0beb4f4572" x="1366.354" y="587.012" style="fill: #e377c2; stroke: #e377c2" />
    </g>
   </g>
   <g id="patch_9">
    <path d="M 46.6 678.3  L 46.6 380.4  " style="fill: none; stroke: #000000; stroke-width: 0.8; stroke-linejoin: miter; stroke-linecap: square" />
   </g>
   <g id="patch_10">
    <path d="M 1429.2 678.3  L 1429.2 380.4  " style="fill: none; stroke: #000000; stroke-width: 0.8; stroke-linejoin: miter; stroke-linecap: square" />
   </g>
   <g id="patch_11">
    <path d="M 46.6 678.3  L 1429.2 678.3  " style="fill: none; stroke: #000000; stroke-width: 0.8; stroke-linejoin: miter; stroke-linecap: square" />
   </g>
   <g id="patch_12">
    <path d="M 46.6 380.4  L 1429.2 380.4  " style="fill: none; stroke: #000000; stroke-width: 0.8; stroke-linejoin: miter; stroke-linecap: square" />
   </g>
   <g id="text_33">
    <text style="font-size: 12px; font-family: 'DejaVu Sans', sans-serif; text-anchor: middle" x="737.9" y="374.4" transform="rotate(-0 737.9 374.4)">PID control inner</text>
   </g>
   <g id="legend_2">
    <g id="patch_13">
     <path d="M 1310.787 494.2 L 1422.2 494.2 Q 1424.2 494.2 1424.2 492.2 L 1424.2 387.3 Q 1424.2 385.3 1422.2 385.3 L 1310.787 385.3 Q 1308.787 385.3 1308.787 387.3 L 1308.787 492.2 Q 1308.787 494.2 1310.787 494.2 z" style="fill: #ffffff; opacity: 0.8; stroke: #cccccc; stroke-linejoin: miter" />
    </g>
    <g id="line2d_62" transform="translate(0.000 -0.498)">
     <path d="M 1312.787 393.498  L 1322.787 393.498  L 1332.787 393.498  " style="fill: none; stroke: #1f77b4; stroke-width: 1.5; stroke-linecap: square" />
     <g>
      <use href="#m3a58cf84ba" x="1322.787" y="393.498" style="fill: #1f77b4; stroke: #1f77b4" />
     </g>
    </g>
    <g id="text_34" transform="translate(0.000 -0.248)">
     <text style="font-size: 10px; font-family: 'DejaVu Sans', sans-serif; text-anchor: start" x="1340.787" y="396.998" transform="rotate(-0 1340.787 396.998)">error</text>
    </g>
    <g id="line2d_63" transform="translate(0.000 0.093)">
     <path d="M 1312.787 408.176  L 1322.787 408.176  L 1332.787 408.176  " style="fill: none; stroke: #ff7f0e; stroke-width: 1.5; stroke-linecap: square" />
     <g>
      <use href="#mac0f037396" x="1322.787" y="408.176" style="fill: #ff7f0e; stroke: #ff7f0e" />
     </g>
    </g>
    <g id="text_35" transform="translate(0.000 0.343)">
     <text style="font-size: 10px; font-family: 'DejaVu Sans', sans-serif; text-anchor: start" x="1340.787" y="411.676" transform="rotate(-0 1340.787 411.676)">error_integral</text>
    </g>
    <g id="line2d_64" transform="translate(0.000 0.407)">
     <path d="M 1312.787 423.132  L 1322.787 423.132  L 1332.787 423.132  " style="fill: none; stroke: #2ca02c; stroke-width: 1.5; stroke-linecap: square" />
     <g>
      <use href="#mbd5a909ff6" x="1322.787" y="423.132" style="fill: #2ca02c; stroke: #2ca02c" />
     </g>
    </g>
    <g id="text_36" transform="translate(0.000 0.657)">
     <text style="font-size: 10px; font-family: 'DejaVu Sans', sans-serif; text-anchor: start" x="1340.787" y="426.632" transform="rotate(-0 1340.787 426.632)">error_derivative</text>
    </g>
    <g id="line2d_65" transform="translate(0.000 0.721)">
     <path d="M 1312.787 438.089  L 1322.787 438.089  L 1332.787 438.089  " style="fill: none; stroke: #d62728; stroke-width: 1.5; stroke-linecap: square" />
     <g>
      <use href="#m9cd0b81748" x="1322.787" y="438.089" style="fill: #d62728; stroke: #d62728; stroke-linejoin: miter" />
     </g>
    </g>
    <g id="text_37" transform="translate(0.000 0.971)">
     <text style="font-size: 10px; font-family: 'DejaVu Sans', sans-serif; text-anchor: start" x="1340.787" y="441.589" transform="rotate(-0 1340.787 441.589)">output</text>
    </g>
    <g id="line2d_66" transform="translate(0.000 1.313)">
     <path d="M 1312.787 452.767  L 1322.787 452.767  L 1332.787 452.767  " style="fill: none; stroke: #9467bd; stroke-width: 1.5; stroke-linecap: square" />
     <g>
      <use href="#m45e5338ab8" x="1322.787" y="452.767" style="fill: #9467bd; stroke: #9467bd" />
     </g>
    </g>
    <g id="text_38" transform="translate(0.000 1.563)">
     <text style="font-size: 10px; font-family: 'DejaVu Sans', sans-serif; text-anchor: start" x="1340.787" y="456.267" transform="rotate(-0 1340.787 456.267)">p_part</text>
    </g>
    <g id="line2d_67" transform="translate(0.000 1.627)">
     <path d="M 1312.787 467.723  L 1322.787 467.723  L 1332.787 467.723  " style="fill: none; stroke: #8c564b; stroke-width: 1.5; stroke-linecap: square" />
     <g>
      <use href="#mc35e30c7c0" x="1322.787" y="467.723" style="fill: #8c564b; stroke: #8c564b" />
     </g>
    </g>
    <g id="text_39" transform="translate(0.000 1.877)">
     <text style="font-size: 10px; font-family: 'DejaVu Sans', sans-serif; text-anchor: start" x="1340.787" y="471.223" transform="rotate(-0 1340.787 471.223)">i_part</text>
    </g>
    <g id="line2d_68" transform="translate(0.000 1.940)">
     <path d="M 1312.787 482.679  L 1322.787 482.679  L 1332.787 482.679  " style="fill: none; stroke: #e377c2; stroke-width: 1.5; stroke-linecap: square" />
     <g>
      <use href="#m0beb4f4572" x="1322.787" y="482.679" style="fill: #e377c2; stroke: #e377c2" />
     </g>
    </g>
    <g id="text_40" transform="translate(0.000 2.190)">
     <text style="font-size: 10px; font-family: 'DejaVu Sans', sans-serif; text-anchor: start" x="1340.787" y="486.179" transform="rotate(-0 1340.787 486.179)">d_part</text>
    </g>
   </g>
  </g>
 </g>
 <defs>
  <clipPath id="p305dee0a32">
   <rect x="46.6" y="25.45" width="1382.6" height="298.05" />
  </clipPath>
  <clipPath id="pa5035410b3">
   <rect x="46.6" y="380.4" width="1382.6" height="297.9" />
  </clipPath>
 </defs>
</svg>
<div class="wm" id="w1">知乎</div><div class="wm" id="w2">@</div><div class="wm" id="w3">Hua Zhu</div>
</div></body></html>
